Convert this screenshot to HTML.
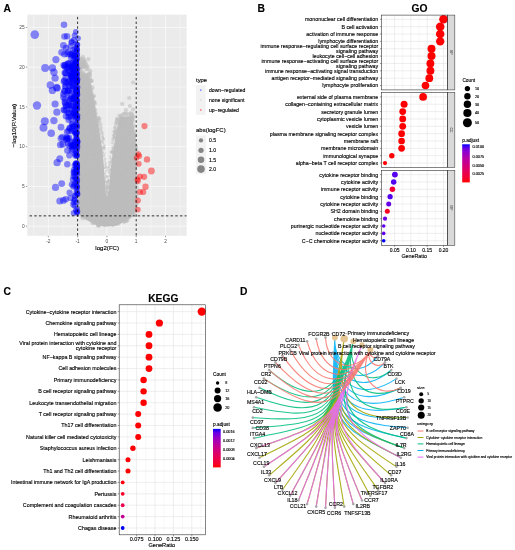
<!DOCTYPE html>
<html><head><meta charset="utf-8"><title>Figure</title>
<style>
html,body{margin:0;padding:0;background:#fff;}
body{width:515px;height:550px;overflow:hidden;}
svg{display:block;font-family:"Liberation Sans",Arial,sans-serif;}
text{stroke:#000;stroke-width:.13px;}
</style></head><body>
<svg width="515" height="550" viewBox="0 0 515 550">
<rect width="515" height="550" fill="#fff"/>
<g id="panelA">
<text x="3.50" y="11.86" font-size="10.3" font-weight="bold">A</text>
<rect x="27.3" y="14.6" width="159.3" height="221.2" fill="#EBEBEB"/>
<path d="M33.65 14.6V235.8M62.95 14.6V235.8M92.25 14.6V235.8M121.55 14.6V235.8M150.85 14.6V235.8M180.15 14.6V235.8M27.3 206.32H186.6M27.3 166.57H186.6M27.3 126.82H186.6M27.3 87.07H186.6M27.3 47.32H186.6" stroke="#F6F6F6" stroke-width="0.6" fill="none"/>
<path d="M48.30 14.6V235.8M77.60 14.6V235.8M106.90 14.6V235.8M136.20 14.6V235.8M165.50 14.6V235.8M27.3 226.20H186.6M27.3 186.45H186.6M27.3 146.70H186.6M27.3 106.95H186.6M27.3 67.20H186.6M27.3 27.45H186.6" stroke="#FCFCFC" stroke-width="0.7" fill="none"/>
<polygon fill="#BCBCBC" points="97.1,225.8 93.4,223.8 88.4,221.0 83.2,218.2 80.2,215.9 77.3,210.3 77.3,194.4 77.3,178.5 77.3,162.6 77.3,146.7 77.3,130.8 77.3,114.9 77.3,99.0 77.3,83.1 77.3,73.6 88.5,73.6 90.7,83.1 94.0,99.0 96.6,114.9 99.3,130.8 101.8,146.7 103.6,162.6 104.7,178.5 106.0,194.4 106.9,197.6 107.8,195.2 109.1,186.4 109.9,178.5 111.4,162.6 113.8,146.7 115.2,138.8 116.7,130.8 118.1,122.8 119.7,116.5 132.9,116.5 133.0,122.8 134.4,130.8 135.3,138.8 136.1,146.7 136.5,162.6 136.5,178.5 136.5,194.4 136.5,210.3 133.6,215.9 130.6,218.2 125.7,221.0 120.4,223.8 116.7,225.8 106.9,226.6"/>
<g fill="#BEBEBE" fill-opacity="0.35"><circle cx="106.9" cy="176.4" r="0.9"/><circle cx="114.6" cy="127.3" r="1.5"/><circle cx="108.7" cy="181.2" r="1.0"/><circle cx="113.9" cy="137.6" r="1.4"/><circle cx="106.9" cy="197.2" r="0.9"/><circle cx="106.9" cy="197.3" r="0.9"/><circle cx="103.7" cy="138.8" r="1.2"/><circle cx="106.9" cy="188.1" r="0.9"/><circle cx="107.7" cy="185.3" r="0.9"/><circle cx="108.8" cy="171.1" r="1.1"/><circle cx="105.5" cy="176.2" r="1.0"/><circle cx="106.1" cy="184.1" r="0.9"/><circle cx="113.5" cy="140.0" r="1.4"/><circle cx="113.8" cy="137.3" r="1.4"/><circle cx="106.9" cy="182.0" r="0.9"/><circle cx="106.9" cy="193.3" r="0.9"/><circle cx="108.7" cy="165.7" r="1.0"/><circle cx="102.0" cy="131.7" r="1.3"/><circle cx="103.4" cy="149.1" r="1.2"/><circle cx="114.1" cy="131.1" r="1.5"/><circle cx="106.9" cy="189.9" r="0.9"/><circle cx="107.9" cy="186.2" r="1.0"/><circle cx="106.9" cy="188.7" r="0.9"/><circle cx="106.3" cy="176.2" r="0.9"/><circle cx="114.4" cy="137.7" r="1.5"/><circle cx="108.4" cy="179.3" r="1.0"/><circle cx="112.7" cy="140.4" r="1.4"/><circle cx="108.2" cy="180.7" r="1.0"/><circle cx="108.9" cy="176.0" r="1.1"/><circle cx="102.5" cy="133.8" r="1.3"/><circle cx="116.6" cy="118.3" r="1.6"/><circle cx="106.6" cy="171.5" r="0.9"/><circle cx="103.0" cy="147.2" r="1.2"/><circle cx="104.0" cy="155.1" r="1.1"/><circle cx="115.9" cy="125.0" r="1.6"/><circle cx="106.9" cy="187.7" r="0.9"/><circle cx="108.6" cy="167.6" r="1.0"/><circle cx="115.1" cy="133.5" r="1.5"/><circle cx="105.7" cy="165.6" r="1.0"/><circle cx="102.7" cy="142.3" r="1.2"/><circle cx="105.4" cy="158.2" r="1.0"/><circle cx="109.2" cy="166.9" r="1.1"/><circle cx="116.4" cy="120.4" r="1.6"/><circle cx="105.5" cy="159.9" r="1.0"/><circle cx="106.9" cy="194.5" r="0.9"/><circle cx="107.2" cy="186.9" r="0.9"/><circle cx="109.4" cy="172.8" r="1.1"/><circle cx="114.3" cy="133.9" r="1.5"/><circle cx="104.9" cy="165.0" r="1.1"/><circle cx="106.9" cy="193.3" r="0.9"/><circle cx="108.0" cy="186.4" r="1.0"/><circle cx="106.9" cy="184.0" r="0.9"/><circle cx="108.2" cy="183.6" r="1.0"/><circle cx="109.9" cy="162.4" r="1.1"/><circle cx="106.9" cy="177.5" r="0.9"/><circle cx="106.9" cy="176.1" r="0.9"/><circle cx="116.2" cy="122.8" r="1.6"/><circle cx="112.2" cy="147.6" r="1.3"/><circle cx="103.1" cy="138.4" r="1.2"/><circle cx="106.9" cy="181.6" r="0.9"/><circle cx="100.8" cy="130.3" r="1.4"/><circle cx="106.4" cy="176.5" r="0.9"/><circle cx="106.9" cy="185.3" r="0.9"/><circle cx="106.9" cy="183.3" r="0.9"/><circle cx="106.6" cy="182.1" r="0.9"/><circle cx="115.4" cy="126.2" r="1.5"/><circle cx="102.1" cy="134.5" r="1.3"/><circle cx="117.3" cy="118.9" r="1.7"/><circle cx="115.5" cy="129.9" r="1.5"/><circle cx="105.5" cy="166.6" r="1.0"/><circle cx="106.8" cy="188.5" r="0.9"/><circle cx="109.1" cy="163.6" r="1.1"/><circle cx="114.5" cy="135.1" r="1.5"/><circle cx="113.7" cy="131.1" r="1.4"/><circle cx="113.3" cy="135.2" r="1.4"/><circle cx="103.1" cy="143.3" r="1.2"/><circle cx="107.1" cy="186.5" r="0.9"/><circle cx="100.7" cy="129.7" r="1.4"/><circle cx="114.6" cy="127.5" r="1.5"/><circle cx="99.8" cy="120.0" r="1.4"/><circle cx="113.3" cy="143.6" r="1.4"/><circle cx="111.1" cy="152.3" r="1.2"/><circle cx="102.2" cy="132.8" r="1.3"/><circle cx="108.2" cy="179.9" r="1.0"/><circle cx="106.9" cy="189.3" r="0.9"/><circle cx="100.9" cy="131.7" r="1.4"/><circle cx="106.9" cy="192.0" r="0.9"/><circle cx="104.9" cy="159.4" r="1.1"/><circle cx="117.4" cy="118.7" r="1.7"/><circle cx="116.1" cy="123.6" r="1.6"/><circle cx="114.0" cy="136.9" r="1.4"/><circle cx="112.2" cy="150.2" r="1.3"/><circle cx="115.1" cy="129.0" r="1.5"/><circle cx="106.3" cy="163.2" r="0.9"/><circle cx="108.1" cy="180.4" r="1.0"/><circle cx="99.4" cy="118.3" r="1.5"/><circle cx="98.7" cy="122.0" r="1.5"/><circle cx="109.2" cy="161.8" r="1.1"/><circle cx="106.9" cy="189.9" r="0.9"/><circle cx="114.8" cy="132.4" r="1.5"/><circle cx="102.8" cy="136.0" r="1.2"/><circle cx="101.2" cy="124.6" r="1.4"/><circle cx="106.2" cy="166.1" r="0.9"/><circle cx="108.2" cy="180.9" r="1.0"/><circle cx="101.7" cy="137.0" r="1.3"/><circle cx="110.1" cy="156.2" r="1.2"/><circle cx="100.1" cy="118.5" r="1.4"/><circle cx="115.2" cy="131.8" r="1.5"/><circle cx="110.6" cy="152.0" r="1.2"/><circle cx="108.1" cy="167.7" r="1.0"/><circle cx="106.9" cy="195.6" r="0.9"/><circle cx="115.2" cy="123.1" r="1.5"/><circle cx="116.5" cy="120.5" r="1.6"/><circle cx="104.2" cy="145.4" r="1.1"/><circle cx="103.4" cy="147.8" r="1.2"/><circle cx="105.5" cy="162.8" r="1.0"/><circle cx="106.5" cy="189.9" r="0.9"/><circle cx="103.1" cy="138.3" r="1.2"/><circle cx="106.5" cy="176.4" r="0.9"/><circle cx="104.7" cy="147.7" r="1.1"/><circle cx="104.5" cy="149.2" r="1.1"/><circle cx="112.8" cy="138.7" r="1.4"/><circle cx="101.7" cy="128.3" r="1.3"/><circle cx="99.1" cy="119.5" r="1.5"/><circle cx="106.9" cy="191.8" r="0.9"/><circle cx="107.4" cy="185.8" r="0.9"/><circle cx="118.5" cy="115.1" r="1.7"/><circle cx="108.7" cy="177.3" r="1.0"/><circle cx="105.8" cy="163.7" r="1.0"/><circle cx="106.4" cy="184.2" r="0.9"/><circle cx="106.4" cy="181.6" r="0.9"/><circle cx="107.7" cy="182.4" r="0.9"/><circle cx="98.8" cy="117.1" r="1.5"/><circle cx="110.7" cy="158.6" r="1.2"/><circle cx="108.0" cy="185.6" r="1.0"/><circle cx="103.8" cy="139.6" r="1.2"/><circle cx="105.8" cy="168.3" r="1.0"/><circle cx="102.8" cy="140.5" r="1.2"/><circle cx="100.6" cy="126.1" r="1.4"/><circle cx="101.1" cy="127.3" r="1.4"/><circle cx="104.5" cy="145.5" r="1.1"/><circle cx="105.0" cy="161.8" r="1.0"/><circle cx="112.0" cy="142.8" r="1.3"/><circle cx="107.6" cy="185.6" r="0.9"/><circle cx="114.3" cy="132.2" r="1.5"/><circle cx="107.9" cy="169.5" r="1.0"/><circle cx="110.0" cy="164.3" r="1.1"/><circle cx="100.6" cy="123.4" r="1.4"/><circle cx="106.0" cy="170.9" r="0.9"/><circle cx="106.7" cy="167.5" r="0.9"/><circle cx="105.4" cy="153.6" r="1.0"/><circle cx="110.5" cy="158.1" r="1.2"/><circle cx="104.4" cy="147.2" r="1.1"/><circle cx="105.6" cy="166.9" r="1.0"/><circle cx="99.8" cy="122.1" r="1.5"/><circle cx="106.7" cy="170.1" r="0.9"/><circle cx="102.0" cy="140.5" r="1.3"/><circle cx="106.9" cy="192.7" r="0.9"/><circle cx="105.7" cy="178.7" r="1.0"/><circle cx="102.8" cy="136.9" r="1.2"/><circle cx="116.7" cy="119.3" r="1.6"/><circle cx="106.9" cy="190.2" r="0.9"/><circle cx="106.9" cy="181.6" r="0.9"/><circle cx="110.0" cy="165.7" r="1.2"/><circle cx="113.7" cy="135.3" r="1.4"/><circle cx="106.9" cy="194.4" r="0.9"/><circle cx="106.9" cy="195.8" r="0.9"/><circle cx="107.5" cy="188.3" r="0.9"/><circle cx="104.2" cy="147.2" r="1.1"/><circle cx="108.0" cy="167.8" r="1.0"/></g>
<g fill="#BEBEBE" fill-opacity="0.55"><circle cx="105.4" cy="201.0" r="1.1"/><circle cx="101.6" cy="219.9" r="1.5"/><circle cx="118.4" cy="119.2" r="1.9"/><circle cx="102.8" cy="174.7" r="1.4"/><circle cx="101.4" cy="215.7" r="1.5"/><circle cx="112.6" cy="175.0" r="1.5"/><circle cx="126.2" cy="212.9" r="2.3"/><circle cx="129.1" cy="139.9" r="2.5"/><circle cx="129.6" cy="119.6" r="2.5"/><circle cx="118.6" cy="223.7" r="1.9"/><circle cx="83.4" cy="184.9" r="2.6"/><circle cx="116.3" cy="133.7" r="1.8"/><circle cx="84.7" cy="187.5" r="2.5"/><circle cx="94.4" cy="164.6" r="2.0"/><circle cx="130.4" cy="138.1" r="2.6"/><circle cx="113.2" cy="219.2" r="1.6"/><circle cx="102.6" cy="200.9" r="1.4"/><circle cx="94.9" cy="184.1" r="1.9"/><circle cx="86.1" cy="209.1" r="2.4"/><circle cx="117.3" cy="166.6" r="1.8"/><circle cx="80.1" cy="165.0" r="2.7"/><circle cx="121.5" cy="129.9" r="2.1"/><circle cx="85.9" cy="179.6" r="2.4"/><circle cx="77.9" cy="122.0" r="2.8"/><circle cx="120.3" cy="137.9" r="2.0"/><circle cx="132.1" cy="116.5" r="2.6"/><circle cx="126.4" cy="135.2" r="2.4"/><circle cx="78.5" cy="64.1" r="2.8"/><circle cx="96.5" cy="128.3" r="1.8"/><circle cx="89.2" cy="128.8" r="2.3"/><circle cx="87.6" cy="195.6" r="2.3"/><circle cx="96.7" cy="133.5" r="1.8"/><circle cx="121.5" cy="168.9" r="2.1"/><circle cx="127.2" cy="175.1" r="2.4"/><circle cx="101.7" cy="152.4" r="1.5"/><circle cx="132.3" cy="151.7" r="2.6"/><circle cx="77.8" cy="169.6" r="2.8"/><circle cx="92.8" cy="223.2" r="2.1"/><circle cx="120.5" cy="116.5" r="2.0"/><circle cx="78.7" cy="155.7" r="2.8"/><circle cx="113.4" cy="147.1" r="1.6"/><circle cx="126.5" cy="154.6" r="2.4"/><circle cx="78.1" cy="169.6" r="2.8"/><circle cx="105.9" cy="207.9" r="1.1"/><circle cx="135.7" cy="193.5" r="2.8"/><circle cx="95.0" cy="103.8" r="1.9"/><circle cx="115.6" cy="177.4" r="1.7"/><circle cx="135.2" cy="146.4" r="2.8"/><circle cx="94.6" cy="102.5" r="2.0"/><circle cx="129.0" cy="194.4" r="2.5"/><circle cx="85.3" cy="65.6" r="2.5"/><circle cx="99.4" cy="226.0" r="1.6"/><circle cx="77.7" cy="182.1" r="2.8"/><circle cx="98.3" cy="128.4" r="1.7"/><circle cx="124.4" cy="153.6" r="2.3"/><circle cx="84.2" cy="142.0" r="2.5"/><circle cx="77.6" cy="86.7" r="2.8"/><circle cx="121.7" cy="169.4" r="2.1"/><circle cx="105.0" cy="181.9" r="1.2"/><circle cx="79.2" cy="146.2" r="2.7"/><circle cx="107.3" cy="191.8" r="1.0"/><circle cx="125.4" cy="149.9" r="2.3"/><circle cx="119.4" cy="203.7" r="2.0"/><circle cx="87.1" cy="191.2" r="2.4"/><circle cx="116.4" cy="211.2" r="1.8"/><circle cx="98.1" cy="225.6" r="1.7"/><circle cx="89.7" cy="85.9" r="2.2"/><circle cx="79.9" cy="59.5" r="2.7"/><circle cx="78.5" cy="86.9" r="2.8"/><circle cx="93.7" cy="163.9" r="2.0"/><circle cx="125.8" cy="220.6" r="2.3"/><circle cx="101.6" cy="147.4" r="1.5"/><circle cx="131.4" cy="192.2" r="2.6"/><circle cx="131.6" cy="170.1" r="2.6"/><circle cx="104.6" cy="211.0" r="1.2"/><circle cx="78.6" cy="157.1" r="2.8"/><circle cx="119.3" cy="212.0" r="2.0"/><circle cx="77.6" cy="66.9" r="2.8"/><circle cx="109.6" cy="172.8" r="1.2"/><circle cx="81.0" cy="139.0" r="2.7"/><circle cx="79.0" cy="95.6" r="2.8"/><circle cx="97.1" cy="120.0" r="1.8"/><circle cx="106.3" cy="188.9" r="1.0"/><circle cx="83.4" cy="65.8" r="2.6"/><circle cx="117.5" cy="121.8" r="1.9"/><circle cx="91.6" cy="93.1" r="2.1"/><circle cx="114.9" cy="200.1" r="1.7"/><circle cx="91.6" cy="188.9" r="2.1"/><circle cx="80.8" cy="160.5" r="2.7"/><circle cx="129.7" cy="141.9" r="2.5"/><circle cx="104.2" cy="225.7" r="1.2"/><circle cx="116.8" cy="133.4" r="1.8"/><circle cx="111.6" cy="222.8" r="1.4"/><circle cx="93.9" cy="101.4" r="2.0"/><circle cx="77.8" cy="106.6" r="2.8"/><circle cx="82.7" cy="66.5" r="2.6"/><circle cx="120.2" cy="205.5" r="2.0"/><circle cx="78.4" cy="193.3" r="2.8"/><circle cx="77.6" cy="62.5" r="2.8"/><circle cx="93.8" cy="107.7" r="2.0"/><circle cx="129.1" cy="193.0" r="2.5"/><circle cx="90.5" cy="200.6" r="2.2"/><circle cx="112.4" cy="152.4" r="1.5"/><circle cx="89.3" cy="206.3" r="2.3"/><circle cx="110.3" cy="175.5" r="1.3"/><circle cx="102.4" cy="202.6" r="1.4"/><circle cx="92.5" cy="171.6" r="2.1"/><circle cx="99.1" cy="215.6" r="1.7"/><circle cx="95.6" cy="110.1" r="1.9"/><circle cx="114.5" cy="185.9" r="1.6"/><circle cx="78.1" cy="75.7" r="2.8"/><circle cx="113.5" cy="153.9" r="1.6"/><circle cx="94.1" cy="178.9" r="2.0"/><circle cx="86.0" cy="68.8" r="2.4"/><circle cx="120.3" cy="156.2" r="2.0"/><circle cx="118.7" cy="132.6" r="1.9"/><circle cx="77.7" cy="185.0" r="2.8"/><circle cx="84.7" cy="126.1" r="2.5"/><circle cx="90.7" cy="116.2" r="2.2"/><circle cx="86.5" cy="98.7" r="2.4"/><circle cx="77.9" cy="154.3" r="2.8"/><circle cx="86.5" cy="103.7" r="2.4"/><circle cx="113.6" cy="210.8" r="1.6"/><circle cx="117.4" cy="122.8" r="1.8"/><circle cx="107.6" cy="195.2" r="1.0"/><circle cx="100.6" cy="141.7" r="1.6"/><circle cx="127.7" cy="125.1" r="2.4"/><circle cx="85.7" cy="80.5" r="2.4"/><circle cx="134.0" cy="161.0" r="2.7"/><circle cx="78.0" cy="119.5" r="2.8"/><circle cx="134.6" cy="177.4" r="2.7"/><circle cx="104.9" cy="225.8" r="1.2"/><circle cx="111.4" cy="203.1" r="1.4"/><circle cx="82.7" cy="210.2" r="2.6"/><circle cx="93.8" cy="118.5" r="2.0"/><circle cx="124.3" cy="221.2" r="2.3"/><circle cx="99.3" cy="134.2" r="1.6"/><circle cx="133.9" cy="134.4" r="2.7"/><circle cx="130.4" cy="145.4" r="2.6"/><circle cx="100.4" cy="187.4" r="1.6"/><circle cx="131.7" cy="177.0" r="2.6"/><circle cx="95.1" cy="182.7" r="1.9"/><circle cx="80.7" cy="74.7" r="2.7"/><circle cx="132.4" cy="176.8" r="2.6"/><circle cx="89.5" cy="74.1" r="2.2"/><circle cx="98.2" cy="221.4" r="1.7"/><circle cx="131.6" cy="119.6" r="2.6"/><circle cx="135.4" cy="154.6" r="2.8"/><circle cx="127.8" cy="203.1" r="2.4"/><circle cx="127.7" cy="184.7" r="2.4"/><circle cx="80.0" cy="157.3" r="2.7"/><circle cx="91.4" cy="89.3" r="2.1"/><circle cx="89.2" cy="93.2" r="2.3"/><circle cx="125.5" cy="194.2" r="2.3"/><circle cx="133.4" cy="137.4" r="2.7"/><circle cx="79.4" cy="191.8" r="2.7"/><circle cx="81.5" cy="100.2" r="2.6"/><circle cx="127.4" cy="151.5" r="2.4"/><circle cx="110.7" cy="199.3" r="1.3"/><circle cx="86.1" cy="184.9" r="2.4"/><circle cx="133.1" cy="143.9" r="2.7"/><circle cx="114.9" cy="214.1" r="1.7"/><circle cx="93.5" cy="125.4" r="2.0"/><circle cx="84.1" cy="105.6" r="2.5"/><circle cx="93.3" cy="121.3" r="2.0"/><circle cx="95.9" cy="113.5" r="1.9"/><circle cx="81.6" cy="63.5" r="2.6"/><circle cx="131.9" cy="165.1" r="2.6"/><circle cx="77.6" cy="98.9" r="2.8"/><circle cx="99.4" cy="224.0" r="1.6"/><circle cx="89.7" cy="102.4" r="2.2"/><circle cx="88.5" cy="204.6" r="2.3"/><circle cx="131.1" cy="134.1" r="2.6"/><circle cx="85.5" cy="84.2" r="2.5"/><circle cx="91.8" cy="105.7" r="2.1"/><circle cx="112.3" cy="151.8" r="1.5"/><circle cx="92.5" cy="87.4" r="2.1"/><circle cx="97.3" cy="209.3" r="1.8"/><circle cx="124.6" cy="136.8" r="2.3"/><circle cx="131.2" cy="203.9" r="2.6"/><circle cx="104.5" cy="216.4" r="1.2"/><circle cx="113.0" cy="225.5" r="1.5"/><circle cx="112.8" cy="217.7" r="1.5"/><circle cx="132.8" cy="168.6" r="2.7"/><circle cx="83.2" cy="97.6" r="2.6"/><circle cx="88.8" cy="142.1" r="2.3"/><circle cx="129.7" cy="137.7" r="2.5"/><circle cx="81.0" cy="72.4" r="2.7"/><circle cx="132.5" cy="174.5" r="2.6"/><circle cx="130.3" cy="152.2" r="2.5"/><circle cx="82.9" cy="154.3" r="2.6"/><circle cx="77.6" cy="90.9" r="2.8"/><circle cx="131.4" cy="120.3" r="2.6"/><circle cx="106.8" cy="200.9" r="1.0"/><circle cx="91.0" cy="81.0" r="2.2"/><circle cx="94.7" cy="217.8" r="2.0"/><circle cx="97.5" cy="117.6" r="1.8"/><circle cx="120.8" cy="171.3" r="2.1"/><circle cx="83.1" cy="93.1" r="2.6"/><circle cx="118.7" cy="146.8" r="1.9"/><circle cx="78.7" cy="77.9" r="2.8"/><circle cx="103.5" cy="155.7" r="1.3"/><circle cx="134.4" cy="135.1" r="2.7"/><circle cx="131.7" cy="203.6" r="2.6"/><circle cx="81.5" cy="100.8" r="2.6"/><circle cx="130.7" cy="126.3" r="2.6"/><circle cx="86.3" cy="109.2" r="2.4"/><circle cx="83.7" cy="59.7" r="2.5"/><circle cx="108.2" cy="187.3" r="1.1"/><circle cx="84.2" cy="96.1" r="2.5"/><circle cx="82.9" cy="217.7" r="2.6"/><circle cx="102.5" cy="206.2" r="1.4"/><circle cx="77.6" cy="199.5" r="2.8"/><circle cx="77.7" cy="75.5" r="2.8"/><circle cx="119.9" cy="120.2" r="2.0"/><circle cx="83.8" cy="183.3" r="2.5"/><circle cx="107.3" cy="224.8" r="1.0"/><circle cx="127.8" cy="128.4" r="2.4"/><circle cx="133.7" cy="155.3" r="2.7"/><circle cx="91.6" cy="107.0" r="2.1"/><circle cx="96.4" cy="180.9" r="1.8"/><circle cx="107.2" cy="213.3" r="1.0"/><circle cx="104.4" cy="178.4" r="1.2"/><circle cx="87.6" cy="76.6" r="2.3"/><circle cx="108.0" cy="187.7" r="1.1"/><circle cx="78.9" cy="73.9" r="2.8"/><circle cx="108.1" cy="204.0" r="1.1"/><circle cx="97.1" cy="124.0" r="1.8"/><circle cx="127.2" cy="219.9" r="2.4"/><circle cx="88.0" cy="80.6" r="2.3"/><circle cx="88.5" cy="126.9" r="2.3"/><circle cx="123.3" cy="134.0" r="2.2"/><circle cx="84.7" cy="80.5" r="2.5"/><circle cx="83.2" cy="64.7" r="2.6"/><circle cx="84.6" cy="210.1" r="2.5"/><circle cx="120.3" cy="221.1" r="2.0"/><circle cx="78.8" cy="203.3" r="2.8"/><circle cx="123.6" cy="182.3" r="2.2"/><circle cx="95.1" cy="170.3" r="1.9"/><circle cx="86.1" cy="120.6" r="2.4"/><circle cx="106.2" cy="202.9" r="1.0"/><circle cx="87.5" cy="135.7" r="2.4"/><circle cx="124.6" cy="193.7" r="2.3"/><circle cx="97.3" cy="137.1" r="1.8"/><circle cx="92.9" cy="185.6" r="2.1"/><circle cx="85.1" cy="123.9" r="2.5"/><circle cx="95.1" cy="128.4" r="1.9"/><circle cx="108.1" cy="192.8" r="1.1"/><circle cx="91.0" cy="161.4" r="2.2"/><circle cx="89.3" cy="167.4" r="2.3"/><circle cx="127.7" cy="160.1" r="2.4"/><circle cx="83.9" cy="150.7" r="2.5"/><circle cx="83.7" cy="172.4" r="2.5"/><circle cx="100.2" cy="202.0" r="1.6"/><circle cx="116.5" cy="131.6" r="1.8"/><circle cx="82.0" cy="131.9" r="2.6"/><circle cx="114.2" cy="182.2" r="1.6"/><circle cx="104.1" cy="209.7" r="1.2"/><circle cx="95.0" cy="121.9" r="1.9"/><circle cx="83.8" cy="62.9" r="2.5"/><circle cx="128.4" cy="114.4" r="2.5"/><circle cx="83.7" cy="194.8" r="2.5"/><circle cx="101.7" cy="175.4" r="1.5"/><circle cx="134.7" cy="166.2" r="2.7"/><circle cx="108.4" cy="214.2" r="1.1"/><circle cx="78.8" cy="97.6" r="2.8"/><circle cx="84.3" cy="75.3" r="2.5"/><circle cx="129.5" cy="160.4" r="2.5"/><circle cx="132.2" cy="129.7" r="2.6"/><circle cx="113.0" cy="170.3" r="1.5"/><circle cx="78.4" cy="80.1" r="2.8"/><circle cx="81.6" cy="64.0" r="2.6"/><circle cx="82.9" cy="215.3" r="2.6"/><circle cx="79.5" cy="186.6" r="2.7"/><circle cx="104.8" cy="181.2" r="1.2"/><circle cx="89.9" cy="167.3" r="2.2"/><circle cx="131.2" cy="196.8" r="2.6"/><circle cx="80.8" cy="80.6" r="2.7"/><circle cx="79.4" cy="116.4" r="2.7"/><circle cx="110.5" cy="190.0" r="1.3"/><circle cx="104.0" cy="215.2" r="1.3"/><circle cx="77.9" cy="74.5" r="2.8"/><circle cx="84.4" cy="112.7" r="2.5"/><circle cx="80.3" cy="121.2" r="2.7"/><circle cx="89.5" cy="193.1" r="2.2"/><circle cx="81.8" cy="86.1" r="2.6"/><circle cx="97.9" cy="226.0" r="1.7"/><circle cx="111.4" cy="220.9" r="1.4"/><circle cx="112.2" cy="216.5" r="1.5"/><circle cx="80.0" cy="68.2" r="2.7"/><circle cx="80.0" cy="109.6" r="2.7"/><circle cx="131.9" cy="196.7" r="2.6"/><circle cx="86.6" cy="166.5" r="2.4"/><circle cx="112.0" cy="199.3" r="1.5"/><circle cx="85.8" cy="78.5" r="2.4"/><circle cx="113.9" cy="158.6" r="1.6"/><circle cx="78.6" cy="179.3" r="2.8"/><circle cx="93.1" cy="165.6" r="2.1"/><circle cx="132.3" cy="162.6" r="2.6"/><circle cx="79.3" cy="72.7" r="2.7"/><circle cx="93.2" cy="96.9" r="2.0"/><circle cx="118.4" cy="132.5" r="1.9"/><circle cx="77.7" cy="134.2" r="2.8"/><circle cx="132.3" cy="133.7" r="2.6"/><circle cx="107.4" cy="217.1" r="1.0"/><circle cx="92.5" cy="152.8" r="2.1"/><circle cx="127.9" cy="178.2" r="2.4"/><circle cx="79.4" cy="115.0" r="2.7"/><circle cx="126.5" cy="186.9" r="2.4"/><circle cx="129.8" cy="192.7" r="2.5"/><circle cx="88.4" cy="78.4" r="2.3"/><circle cx="118.6" cy="184.2" r="1.9"/><circle cx="98.7" cy="196.1" r="1.7"/><circle cx="82.3" cy="137.6" r="2.6"/><circle cx="88.8" cy="140.5" r="2.3"/><circle cx="135.5" cy="164.0" r="2.8"/><circle cx="82.6" cy="197.6" r="2.6"/><circle cx="105.5" cy="223.7" r="1.1"/><circle cx="126.5" cy="156.1" r="2.4"/><circle cx="113.4" cy="149.4" r="1.6"/><circle cx="116.1" cy="215.0" r="1.8"/><circle cx="78.3" cy="194.0" r="2.8"/><circle cx="87.1" cy="92.5" r="2.4"/><circle cx="78.7" cy="80.1" r="2.8"/><circle cx="90.9" cy="80.4" r="2.2"/><circle cx="77.7" cy="85.1" r="2.8"/><circle cx="90.0" cy="76.9" r="2.2"/><circle cx="108.7" cy="182.4" r="1.2"/><circle cx="83.1" cy="61.5" r="2.6"/><circle cx="84.3" cy="182.4" r="2.5"/><circle cx="115.8" cy="154.6" r="1.7"/><circle cx="125.9" cy="142.7" r="2.3"/><circle cx="79.2" cy="169.9" r="2.7"/><circle cx="104.8" cy="167.9" r="1.2"/><circle cx="108.9" cy="192.1" r="1.2"/><circle cx="132.1" cy="120.4" r="2.6"/><circle cx="131.6" cy="114.7" r="2.6"/><circle cx="85.3" cy="198.7" r="2.5"/><circle cx="116.7" cy="128.7" r="1.8"/><circle cx="81.6" cy="91.1" r="2.6"/><circle cx="117.6" cy="154.0" r="1.9"/><circle cx="106.2" cy="216.6" r="1.0"/><circle cx="109.0" cy="197.2" r="1.2"/><circle cx="109.2" cy="189.0" r="1.2"/><circle cx="129.1" cy="178.4" r="2.5"/><circle cx="82.7" cy="107.4" r="2.6"/><circle cx="87.8" cy="69.1" r="2.3"/><circle cx="106.6" cy="221.5" r="1.0"/><circle cx="109.4" cy="184.9" r="1.2"/><circle cx="80.3" cy="96.3" r="2.7"/><circle cx="127.1" cy="174.3" r="2.4"/><circle cx="108.9" cy="180.8" r="1.2"/><circle cx="83.3" cy="184.1" r="2.6"/><circle cx="125.8" cy="192.5" r="2.3"/><circle cx="131.5" cy="196.0" r="2.6"/><circle cx="132.4" cy="208.0" r="2.6"/><circle cx="94.1" cy="96.0" r="2.0"/><circle cx="106.7" cy="207.6" r="1.0"/><circle cx="106.6" cy="198.0" r="1.0"/><circle cx="120.8" cy="115.6" r="2.1"/><circle cx="106.0" cy="187.5" r="1.1"/><circle cx="117.5" cy="212.6" r="1.9"/><circle cx="93.5" cy="103.0" r="2.0"/><circle cx="125.2" cy="126.5" r="2.3"/><circle cx="77.6" cy="141.3" r="2.8"/><circle cx="131.8" cy="164.8" r="2.6"/><circle cx="77.6" cy="63.8" r="2.8"/><circle cx="129.2" cy="197.5" r="2.5"/><circle cx="115.1" cy="137.7" r="1.7"/><circle cx="105.2" cy="173.5" r="1.1"/><circle cx="126.1" cy="113.9" r="2.3"/><circle cx="133.0" cy="149.8" r="2.7"/><circle cx="78.8" cy="74.5" r="2.8"/><circle cx="79.0" cy="138.7" r="2.8"/><circle cx="98.1" cy="119.3" r="1.7"/><circle cx="105.0" cy="200.5" r="1.2"/><circle cx="78.3" cy="59.8" r="2.8"/><circle cx="90.0" cy="139.3" r="2.2"/><circle cx="93.2" cy="130.9" r="2.0"/><circle cx="88.7" cy="86.9" r="2.3"/><circle cx="93.3" cy="164.9" r="2.0"/><circle cx="125.8" cy="121.8" r="2.3"/><circle cx="125.4" cy="183.4" r="2.3"/><circle cx="84.3" cy="86.0" r="2.5"/><circle cx="133.8" cy="163.7" r="2.7"/><circle cx="120.4" cy="214.7" r="2.0"/><circle cx="97.8" cy="128.7" r="1.7"/><circle cx="110.6" cy="195.2" r="1.3"/><circle cx="79.0" cy="156.0" r="2.8"/><circle cx="93.8" cy="148.7" r="2.0"/><circle cx="120.3" cy="163.4" r="2.0"/><circle cx="79.0" cy="180.5" r="2.8"/><circle cx="109.9" cy="220.7" r="1.3"/><circle cx="117.4" cy="135.8" r="1.8"/><circle cx="107.2" cy="202.8" r="1.0"/><circle cx="135.9" cy="197.1" r="2.8"/><circle cx="87.0" cy="86.6" r="2.4"/><circle cx="79.9" cy="74.0" r="2.7"/><circle cx="85.7" cy="119.2" r="2.4"/><circle cx="78.6" cy="87.9" r="2.8"/><circle cx="110.2" cy="170.1" r="1.3"/><circle cx="96.1" cy="211.4" r="1.9"/><circle cx="132.5" cy="117.0" r="2.6"/><circle cx="97.9" cy="184.9" r="1.7"/><circle cx="118.9" cy="215.4" r="1.9"/><circle cx="113.8" cy="211.3" r="1.6"/><circle cx="80.2" cy="69.0" r="2.7"/><circle cx="78.5" cy="79.4" r="2.8"/><circle cx="90.5" cy="136.8" r="2.2"/><circle cx="105.9" cy="186.2" r="1.1"/><circle cx="79.2" cy="182.1" r="2.7"/><circle cx="80.4" cy="126.8" r="2.7"/><circle cx="124.2" cy="221.5" r="2.2"/><circle cx="100.4" cy="158.2" r="1.6"/><circle cx="105.4" cy="202.8" r="1.1"/><circle cx="135.7" cy="203.7" r="2.8"/><circle cx="90.2" cy="199.1" r="2.2"/><circle cx="113.5" cy="197.8" r="1.6"/><circle cx="77.9" cy="74.6" r="2.8"/><circle cx="136.2" cy="187.9" r="2.8"/><circle cx="93.4" cy="207.7" r="2.0"/><circle cx="78.4" cy="167.1" r="2.8"/><circle cx="124.7" cy="176.3" r="2.3"/><circle cx="135.1" cy="205.4" r="2.8"/><circle cx="126.1" cy="125.3" r="2.3"/><circle cx="82.3" cy="196.9" r="2.6"/><circle cx="123.9" cy="168.2" r="2.2"/><circle cx="116.1" cy="185.4" r="1.8"/><circle cx="80.2" cy="63.2" r="2.7"/><circle cx="130.2" cy="125.6" r="2.5"/><circle cx="133.0" cy="125.6" r="2.7"/><circle cx="127.6" cy="153.8" r="2.4"/><circle cx="123.9" cy="153.0" r="2.2"/><circle cx="78.5" cy="130.2" r="2.8"/><circle cx="133.0" cy="207.9" r="2.7"/><circle cx="86.1" cy="64.8" r="2.4"/><circle cx="90.8" cy="153.0" r="2.2"/><circle cx="113.9" cy="175.4" r="1.6"/><circle cx="82.8" cy="73.0" r="2.6"/><circle cx="78.8" cy="88.2" r="2.8"/><circle cx="132.6" cy="149.7" r="2.7"/><circle cx="131.7" cy="154.6" r="2.6"/><circle cx="120.9" cy="186.7" r="2.1"/><circle cx="89.0" cy="215.2" r="2.3"/><circle cx="125.5" cy="131.6" r="2.3"/><circle cx="124.4" cy="146.8" r="2.3"/><circle cx="79.2" cy="210.5" r="2.7"/><circle cx="98.8" cy="225.6" r="1.7"/><circle cx="132.9" cy="135.1" r="2.7"/><circle cx="90.8" cy="170.9" r="2.2"/><circle cx="128.1" cy="165.6" r="2.4"/><circle cx="86.8" cy="121.0" r="2.4"/><circle cx="87.9" cy="81.3" r="2.3"/><circle cx="122.7" cy="146.2" r="2.2"/><circle cx="90.2" cy="103.3" r="2.2"/><circle cx="78.8" cy="132.7" r="2.8"/><circle cx="125.6" cy="155.1" r="2.3"/><circle cx="96.0" cy="166.9" r="1.9"/><circle cx="77.8" cy="60.8" r="2.8"/><circle cx="106.6" cy="191.3" r="1.0"/><circle cx="136.2" cy="182.8" r="2.8"/><circle cx="114.0" cy="183.4" r="1.6"/><circle cx="86.1" cy="172.2" r="2.4"/><circle cx="84.8" cy="75.0" r="2.5"/><circle cx="77.9" cy="128.4" r="2.8"/><circle cx="99.6" cy="147.6" r="1.6"/><circle cx="89.6" cy="74.4" r="2.2"/><circle cx="85.8" cy="94.6" r="2.4"/><circle cx="77.7" cy="70.8" r="2.8"/><circle cx="81.3" cy="63.7" r="2.7"/><circle cx="84.2" cy="94.8" r="2.5"/><circle cx="110.6" cy="169.5" r="1.3"/><circle cx="106.3" cy="224.9" r="1.0"/><circle cx="79.3" cy="154.6" r="2.7"/><circle cx="118.1" cy="130.3" r="1.9"/><circle cx="77.9" cy="125.0" r="2.8"/><circle cx="115.3" cy="158.6" r="1.7"/><circle cx="128.2" cy="123.1" r="2.4"/><circle cx="89.4" cy="176.0" r="2.3"/><circle cx="93.5" cy="222.7" r="2.0"/><circle cx="98.1" cy="121.5" r="1.7"/><circle cx="135.2" cy="148.3" r="2.8"/><circle cx="123.1" cy="114.5" r="2.2"/><circle cx="106.4" cy="221.6" r="1.0"/><circle cx="135.9" cy="152.1" r="2.8"/><circle cx="100.2" cy="165.8" r="1.6"/><circle cx="79.5" cy="209.5" r="2.7"/><circle cx="85.6" cy="87.2" r="2.4"/><circle cx="124.0" cy="194.9" r="2.2"/><circle cx="112.5" cy="151.6" r="1.5"/><circle cx="110.9" cy="161.9" r="1.4"/><circle cx="115.4" cy="185.1" r="1.7"/><circle cx="83.7" cy="207.6" r="2.5"/><circle cx="98.6" cy="193.8" r="1.7"/><circle cx="126.2" cy="220.5" r="2.3"/><circle cx="101.8" cy="149.4" r="1.5"/><circle cx="102.8" cy="152.7" r="1.4"/><circle cx="89.0" cy="102.0" r="2.3"/><circle cx="81.4" cy="197.7" r="2.6"/><circle cx="104.9" cy="191.9" r="1.2"/><circle cx="101.1" cy="224.4" r="1.5"/><circle cx="98.5" cy="125.2" r="1.7"/><circle cx="130.9" cy="205.7" r="2.6"/><circle cx="77.7" cy="194.2" r="2.8"/><circle cx="78.6" cy="146.6" r="2.8"/><circle cx="80.8" cy="59.3" r="2.7"/><circle cx="87.4" cy="163.8" r="2.4"/><circle cx="87.7" cy="132.4" r="2.3"/><circle cx="103.3" cy="203.3" r="1.3"/><circle cx="89.9" cy="157.9" r="2.2"/><circle cx="89.3" cy="73.5" r="2.3"/><circle cx="78.2" cy="84.5" r="2.8"/><circle cx="112.1" cy="160.0" r="1.5"/><circle cx="79.6" cy="110.7" r="2.7"/><circle cx="128.7" cy="173.0" r="2.5"/><circle cx="112.9" cy="153.1" r="1.5"/><circle cx="83.8" cy="65.7" r="2.5"/><circle cx="134.4" cy="211.8" r="2.7"/><circle cx="93.0" cy="155.9" r="2.1"/><circle cx="80.0" cy="145.8" r="2.7"/><circle cx="82.9" cy="56.9" r="2.1"/><circle cx="88.4" cy="59.1" r="2.1"/><circle cx="91.7" cy="81" r="2.1"/><circle cx="92.8" cy="96.2" r="2.1"/><circle cx="85.5" cy="62" r="2.1"/><circle cx="87.5" cy="66.5" r="2.1"/><circle cx="90.5" cy="71" r="2.1"/><circle cx="84" cy="60.5" r="2.1"/><circle cx="133.1" cy="82.5" r="2.1"/><circle cx="129.2" cy="98" r="2.1"/><circle cx="122.2" cy="103.9" r="2.1"/><circle cx="129.9" cy="106" r="2.1"/><circle cx="133.1" cy="109.3" r="2.1"/><circle cx="126" cy="110" r="2.1"/><circle cx="124.5" cy="113.5" r="2.1"/><circle cx="131" cy="113" r="2.1"/></g>
<g fill="#0000FF" fill-opacity="0.45"><circle cx="34.8" cy="34.6" r="4.3"/><circle cx="64.0" cy="24.8" r="3.3"/><circle cx="67.1" cy="36.2" r="3.2"/><circle cx="64.5" cy="36.5" r="3.3"/><circle cx="75.8" cy="31.8" r="2.9"/><circle cx="74.6" cy="35.4" r="2.9"/><circle cx="78.1" cy="38.3" r="2.8"/><circle cx="71.6" cy="42.5" r="3.1"/><circle cx="63.4" cy="45.4" r="3.4"/><circle cx="61.6" cy="52.3" r="3.4"/><circle cx="55.9" cy="59.6" r="3.6"/><circle cx="45.1" cy="68.1" r="4.0"/><circle cx="52.4" cy="67.9" r="3.7"/><circle cx="53.9" cy="72.3" r="3.7"/><circle cx="55.1" cy="78.2" r="3.6"/><circle cx="50.4" cy="85.1" r="3.8"/><circle cx="56.6" cy="87.4" r="3.6"/><circle cx="57.2" cy="88.2" r="3.6"/><circle cx="52.4" cy="90.4" r="3.7"/><circle cx="64.0" cy="81.5" r="3.3"/><circle cx="65.7" cy="82.7" r="3.3"/><circle cx="65.1" cy="99.2" r="3.3"/><circle cx="37.0" cy="105.5" r="4.2"/><circle cx="55.1" cy="104.0" r="3.6"/><circle cx="56.9" cy="112.2" r="3.6"/><circle cx="66.3" cy="109.9" r="3.3"/><circle cx="44.8" cy="121.3" r="4.0"/><circle cx="53.9" cy="120.6" r="3.7"/><circle cx="43.5" cy="127.8" r="4.0"/><circle cx="61.0" cy="127.2" r="3.4"/><circle cx="51.2" cy="133.2" r="3.8"/><circle cx="61.0" cy="138.3" r="3.4"/><circle cx="62.5" cy="137.1" r="3.4"/><circle cx="60.4" cy="144.8" r="3.5"/><circle cx="62.8" cy="144.2" r="3.4"/><circle cx="66.9" cy="131.8" r="3.2"/><circle cx="67.5" cy="138.9" r="3.2"/><circle cx="69.3" cy="155.4" r="3.1"/><circle cx="59.8" cy="158.7" r="3.5"/><circle cx="57.1" cy="162.7" r="3.6"/><circle cx="67.3" cy="164.3" r="3.2"/><circle cx="61.7" cy="183.6" r="3.4"/><circle cx="55.5" cy="187.4" r="3.6"/><circle cx="72.8" cy="179.7" r="3.0"/><circle cx="73.2" cy="186.8" r="3.0"/><circle cx="69.6" cy="192.7" r="3.1"/><circle cx="74.6" cy="195.7" r="2.9"/><circle cx="59.8" cy="201.0" r="3.5"/><circle cx="63.4" cy="200.4" r="3.4"/><circle cx="65.7" cy="199.2" r="3.3"/><circle cx="70.5" cy="198.0" r="3.1"/><circle cx="73.6" cy="202.2" r="3.0"/><circle cx="74.6" cy="205.7" r="2.9"/><circle cx="75.8" cy="210.4" r="2.9"/><circle cx="77.0" cy="212.2" r="2.8"/><circle cx="66.0" cy="48.0" r="3.3"/><circle cx="68.0" cy="52.0" r="3.2"/><circle cx="70.5" cy="46.0" r="3.1"/><circle cx="73.0" cy="50.0" r="3.0"/><circle cx="76.0" cy="44.0" r="2.9"/><circle cx="77.0" cy="48.5" r="2.8"/><circle cx="74.0" cy="40.0" r="3.0"/><circle cx="76.6" cy="47.7" r="2.9"/><circle cx="77.1" cy="49.9" r="2.8"/><circle cx="71.7" cy="41.3" r="3.0"/><circle cx="77.2" cy="44.5" r="2.8"/><circle cx="77.3" cy="50.7" r="2.8"/><circle cx="74.9" cy="48.7" r="2.9"/><circle cx="76.1" cy="52.2" r="2.9"/><circle cx="77.5" cy="44.8" r="2.8"/><circle cx="71.6" cy="66.3" r="3.1"/><circle cx="75.3" cy="63.0" r="2.9"/><circle cx="74.1" cy="55.7" r="3.0"/><circle cx="75.7" cy="68.7" r="2.9"/><circle cx="70.1" cy="54.2" r="3.1"/><circle cx="74.5" cy="54.9" r="2.9"/><circle cx="76.9" cy="73.3" r="2.8"/><circle cx="73.1" cy="67.6" r="3.0"/><circle cx="71.4" cy="76.6" r="3.1"/><circle cx="74.8" cy="58.0" r="2.9"/><circle cx="71.5" cy="76.6" r="3.1"/><circle cx="73.4" cy="66.9" r="3.0"/><circle cx="72.6" cy="63.1" r="3.0"/><circle cx="65.3" cy="67.0" r="3.3"/><circle cx="67.5" cy="54.0" r="3.2"/><circle cx="76.2" cy="62.1" r="2.9"/><circle cx="76.4" cy="67.8" r="2.9"/><circle cx="71.6" cy="55.2" r="3.1"/><circle cx="71.0" cy="57.9" r="3.1"/><circle cx="73.2" cy="53.1" r="3.0"/><circle cx="72.2" cy="69.1" r="3.0"/><circle cx="74.0" cy="70.5" r="3.0"/><circle cx="70.2" cy="73.0" r="3.1"/><circle cx="76.4" cy="65.1" r="2.9"/><circle cx="77.3" cy="54.7" r="2.8"/><circle cx="72.2" cy="54.6" r="3.0"/><circle cx="72.1" cy="73.2" r="3.0"/><circle cx="68.5" cy="63.1" r="3.2"/><circle cx="75.5" cy="62.8" r="2.9"/><circle cx="77.3" cy="54.5" r="2.8"/><circle cx="77.2" cy="58.2" r="2.8"/><circle cx="77.1" cy="70.1" r="2.8"/><circle cx="75.4" cy="56.0" r="2.9"/><circle cx="76.5" cy="59.4" r="2.9"/><circle cx="73.6" cy="59.3" r="3.0"/><circle cx="75.0" cy="74.4" r="2.9"/><circle cx="76.7" cy="59.5" r="2.8"/><circle cx="76.4" cy="61.1" r="2.9"/><circle cx="68.0" cy="67.9" r="3.2"/><circle cx="64.4" cy="54.2" r="3.3"/><circle cx="67.3" cy="92.8" r="3.2"/><circle cx="65.4" cy="73.1" r="3.3"/><circle cx="64.3" cy="91.3" r="3.3"/><circle cx="63.5" cy="94.2" r="3.4"/><circle cx="72.0" cy="90.5" r="3.0"/><circle cx="71.7" cy="76.2" r="3.1"/><circle cx="72.7" cy="79.8" r="3.0"/><circle cx="67.7" cy="63.8" r="3.2"/><circle cx="71.9" cy="76.6" r="3.0"/><circle cx="69.3" cy="82.0" r="3.1"/><circle cx="64.8" cy="102.0" r="3.3"/><circle cx="68.3" cy="113.2" r="3.2"/><circle cx="64.5" cy="110.4" r="3.3"/><circle cx="72.9" cy="68.7" r="3.0"/><circle cx="68.4" cy="90.9" r="3.2"/><circle cx="65.7" cy="77.8" r="3.3"/><circle cx="63.6" cy="97.2" r="3.4"/><circle cx="71.8" cy="105.3" r="3.0"/><circle cx="72.0" cy="72.8" r="3.0"/><circle cx="68.1" cy="105.3" r="3.2"/><circle cx="71.5" cy="97.5" r="3.1"/><circle cx="68.3" cy="66.8" r="3.2"/><circle cx="70.6" cy="74.3" r="3.1"/><circle cx="70.9" cy="67.7" r="3.1"/><circle cx="66.9" cy="68.1" r="3.2"/><circle cx="65.3" cy="64.7" r="3.3"/><circle cx="67.7" cy="82.3" r="3.2"/><circle cx="68.7" cy="70.7" r="3.2"/><circle cx="63.8" cy="109.8" r="3.3"/><circle cx="66.2" cy="73.3" r="3.3"/><circle cx="70.8" cy="76.4" r="3.1"/><circle cx="64.8" cy="91.0" r="3.3"/><circle cx="63.7" cy="65.2" r="3.3"/><circle cx="66.2" cy="106.6" r="3.3"/><circle cx="69.1" cy="86.3" r="3.2"/><circle cx="71.8" cy="106.2" r="3.0"/><circle cx="68.1" cy="90.6" r="3.2"/><circle cx="69.4" cy="101.1" r="3.1"/><circle cx="65.4" cy="86.3" r="3.3"/><circle cx="71.5" cy="84.4" r="3.1"/><circle cx="71.1" cy="119.0" r="3.1"/><circle cx="66.0" cy="116.3" r="3.3"/><circle cx="69.3" cy="145.7" r="3.1"/><circle cx="70.9" cy="116.1" r="3.1"/><circle cx="71.5" cy="131.1" r="3.1"/><circle cx="72.4" cy="149.6" r="3.0"/><circle cx="71.8" cy="146.2" r="3.0"/><circle cx="69.5" cy="128.2" r="3.1"/><circle cx="68.5" cy="116.8" r="3.2"/><circle cx="66.3" cy="137.7" r="3.3"/><circle cx="69.6" cy="128.0" r="3.1"/><circle cx="68.6" cy="119.8" r="3.2"/><circle cx="69.1" cy="137.8" r="3.2"/><circle cx="66.1" cy="139.9" r="3.3"/><circle cx="66.0" cy="105.3" r="3.3"/><circle cx="77.6" cy="115.3" r="2.8"/><circle cx="76.9" cy="88.1" r="2.8"/><circle cx="77.2" cy="90.6" r="2.8"/><circle cx="74.0" cy="72.3" r="3.0"/><circle cx="69.2" cy="80.8" r="3.1"/><circle cx="73.9" cy="63.7" r="3.0"/><circle cx="77.6" cy="79.2" r="2.8"/><circle cx="75.8" cy="116.1" r="2.9"/><circle cx="76.4" cy="64.9" r="2.9"/><circle cx="77.6" cy="87.2" r="2.8"/><circle cx="70.1" cy="95.7" r="3.1"/><circle cx="72.0" cy="86.1" r="3.0"/><circle cx="76.9" cy="118.1" r="2.8"/><circle cx="71.8" cy="108.9" r="3.0"/><circle cx="68.9" cy="113.2" r="3.2"/><circle cx="70.8" cy="104.0" r="3.1"/><circle cx="76.3" cy="90.2" r="2.9"/><circle cx="75.9" cy="65.1" r="2.9"/><circle cx="77.4" cy="80.1" r="2.8"/><circle cx="64.8" cy="72.7" r="3.3"/><circle cx="73.2" cy="112.7" r="3.0"/><circle cx="77.1" cy="103.8" r="2.8"/><circle cx="74.1" cy="98.6" r="3.0"/><circle cx="64.4" cy="65.8" r="3.3"/><circle cx="74.5" cy="63.6" r="2.9"/><circle cx="77.0" cy="82.5" r="2.8"/><circle cx="75.0" cy="78.5" r="2.9"/><circle cx="70.2" cy="98.9" r="3.1"/><circle cx="77.1" cy="104.7" r="2.8"/><circle cx="77.1" cy="110.1" r="2.8"/><circle cx="72.4" cy="86.1" r="3.0"/><circle cx="75.3" cy="110.0" r="2.9"/><circle cx="75.0" cy="86.9" r="2.9"/><circle cx="75.1" cy="95.9" r="2.9"/><circle cx="77.4" cy="118.0" r="2.8"/><circle cx="76.7" cy="95.4" r="2.8"/><circle cx="76.7" cy="76.8" r="2.8"/><circle cx="76.7" cy="73.0" r="2.8"/><circle cx="75.5" cy="113.7" r="2.9"/><circle cx="76.3" cy="97.3" r="2.9"/><circle cx="76.8" cy="76.3" r="2.8"/><circle cx="71.8" cy="81.6" r="3.0"/><circle cx="75.3" cy="93.7" r="2.9"/><circle cx="74.6" cy="67.5" r="2.9"/><circle cx="77.4" cy="108.8" r="2.8"/><circle cx="76.3" cy="114.3" r="2.9"/><circle cx="74.2" cy="113.9" r="3.0"/><circle cx="76.4" cy="95.3" r="2.9"/><circle cx="68.7" cy="90.4" r="3.2"/><circle cx="77.1" cy="105.3" r="2.8"/><circle cx="76.3" cy="101.9" r="2.9"/><circle cx="73.7" cy="68.2" r="3.0"/><circle cx="77.0" cy="95.0" r="2.8"/><circle cx="77.2" cy="116.3" r="2.8"/><circle cx="74.2" cy="71.7" r="3.0"/><circle cx="74.4" cy="110.2" r="2.9"/><circle cx="75.3" cy="115.6" r="2.9"/><circle cx="77.3" cy="100.2" r="2.8"/><circle cx="73.5" cy="77.6" r="3.0"/><circle cx="77.0" cy="90.5" r="2.8"/><circle cx="75.8" cy="81.6" r="2.9"/><circle cx="77.3" cy="82.1" r="2.8"/><circle cx="77.6" cy="68.6" r="2.8"/><circle cx="76.0" cy="106.5" r="2.9"/><circle cx="77.3" cy="107.8" r="2.8"/><circle cx="64.4" cy="80.6" r="3.3"/><circle cx="76.6" cy="100.2" r="2.9"/><circle cx="76.8" cy="81.6" r="2.8"/><circle cx="73.8" cy="96.6" r="3.0"/><circle cx="77.1" cy="94.9" r="2.8"/><circle cx="75.1" cy="115.0" r="2.9"/><circle cx="69.5" cy="63.7" r="3.1"/><circle cx="75.4" cy="113.3" r="2.9"/><circle cx="76.9" cy="91.7" r="2.8"/><circle cx="75.4" cy="81.6" r="2.9"/><circle cx="76.5" cy="73.9" r="2.9"/><circle cx="72.2" cy="66.9" r="3.0"/><circle cx="77.1" cy="92.5" r="2.8"/><circle cx="77.2" cy="92.0" r="2.8"/><circle cx="73.7" cy="80.7" r="3.0"/><circle cx="65.5" cy="86.7" r="3.3"/><circle cx="73.6" cy="116.4" r="3.0"/><circle cx="77.2" cy="74.3" r="2.8"/><circle cx="77.4" cy="101.0" r="2.8"/><circle cx="73.5" cy="86.4" r="3.0"/><circle cx="73.8" cy="99.5" r="3.0"/><circle cx="73.6" cy="98.5" r="3.0"/><circle cx="65.3" cy="103.5" r="3.3"/><circle cx="77.6" cy="94.5" r="2.8"/><circle cx="73.4" cy="113.8" r="3.0"/><circle cx="74.3" cy="70.8" r="2.9"/><circle cx="71.0" cy="110.2" r="3.1"/><circle cx="77.2" cy="79.0" r="2.8"/><circle cx="74.0" cy="97.7" r="3.0"/><circle cx="77.5" cy="118.7" r="2.8"/><circle cx="70.9" cy="99.2" r="3.1"/><circle cx="76.4" cy="63.4" r="2.9"/><circle cx="72.6" cy="68.3" r="3.0"/><circle cx="74.7" cy="70.7" r="2.9"/><circle cx="74.3" cy="64.9" r="2.9"/><circle cx="74.9" cy="66.1" r="2.9"/><circle cx="75.2" cy="107.9" r="2.9"/><circle cx="76.3" cy="92.0" r="2.9"/><circle cx="75.3" cy="98.1" r="2.9"/><circle cx="76.8" cy="86.2" r="2.8"/><circle cx="75.3" cy="103.4" r="2.9"/><circle cx="75.9" cy="90.8" r="2.9"/><circle cx="76.9" cy="81.9" r="2.8"/><circle cx="76.6" cy="89.3" r="2.9"/><circle cx="73.7" cy="76.0" r="3.0"/><circle cx="75.3" cy="75.4" r="2.9"/><circle cx="69.2" cy="105.0" r="3.1"/><circle cx="76.1" cy="90.4" r="2.9"/><circle cx="75.9" cy="102.7" r="2.9"/><circle cx="72.1" cy="79.4" r="3.0"/><circle cx="73.4" cy="92.0" r="3.0"/><circle cx="75.7" cy="107.0" r="2.9"/><circle cx="76.4" cy="99.0" r="2.9"/><circle cx="73.1" cy="98.9" r="3.0"/><circle cx="77.0" cy="128.4" r="2.8"/><circle cx="73.6" cy="146.3" r="3.0"/><circle cx="74.6" cy="131.2" r="2.9"/><circle cx="74.5" cy="131.9" r="2.9"/><circle cx="77.4" cy="144.9" r="2.8"/><circle cx="77.5" cy="141.7" r="2.8"/><circle cx="75.6" cy="120.2" r="2.9"/><circle cx="68.6" cy="130.7" r="3.2"/><circle cx="76.9" cy="125.9" r="2.8"/><circle cx="77.3" cy="142.6" r="2.8"/><circle cx="74.1" cy="126.2" r="3.0"/><circle cx="76.4" cy="137.2" r="2.9"/><circle cx="75.8" cy="145.0" r="2.9"/><circle cx="71.6" cy="129.2" r="3.1"/><circle cx="72.3" cy="124.3" r="3.0"/><circle cx="76.2" cy="138.9" r="2.9"/><circle cx="68.0" cy="143.4" r="3.2"/><circle cx="77.1" cy="148.1" r="2.8"/><circle cx="70.9" cy="144.6" r="3.1"/><circle cx="76.5" cy="124.1" r="2.9"/><circle cx="71.8" cy="124.2" r="3.0"/><circle cx="77.0" cy="139.4" r="2.8"/><circle cx="76.4" cy="127.0" r="2.9"/><circle cx="71.5" cy="150.4" r="3.1"/><circle cx="76.3" cy="138.9" r="2.9"/><circle cx="76.8" cy="133.4" r="2.8"/><circle cx="76.3" cy="153.9" r="2.9"/><circle cx="77.6" cy="141.1" r="2.8"/><circle cx="73.8" cy="141.4" r="3.0"/><circle cx="74.6" cy="142.7" r="2.9"/><circle cx="77.0" cy="132.3" r="2.8"/><circle cx="74.6" cy="153.9" r="2.9"/><circle cx="76.7" cy="132.8" r="2.8"/><circle cx="72.5" cy="147.5" r="3.0"/><circle cx="76.9" cy="122.1" r="2.8"/><circle cx="75.3" cy="133.7" r="2.9"/><circle cx="77.5" cy="143.1" r="2.8"/><circle cx="74.9" cy="143.0" r="2.9"/><circle cx="75.7" cy="133.1" r="2.9"/><circle cx="77.0" cy="150.3" r="2.8"/><circle cx="76.2" cy="143.5" r="2.9"/><circle cx="71.5" cy="141.7" r="3.1"/><circle cx="67.3" cy="150.5" r="3.2"/><circle cx="72.5" cy="146.1" r="3.0"/><circle cx="75.3" cy="145.9" r="2.9"/><circle cx="77.5" cy="141.2" r="2.8"/><circle cx="73.2" cy="126.2" r="3.0"/><circle cx="73.7" cy="145.0" r="3.0"/><circle cx="67.3" cy="137.5" r="3.2"/><circle cx="76.3" cy="152.7" r="2.9"/><circle cx="75.0" cy="146.5" r="2.9"/><circle cx="72.7" cy="126.8" r="3.0"/><circle cx="76.3" cy="135.0" r="2.9"/><circle cx="77.3" cy="126.0" r="2.8"/><circle cx="73.9" cy="145.3" r="3.0"/><circle cx="67.3" cy="138.9" r="3.2"/><circle cx="76.0" cy="151.4" r="2.9"/><circle cx="77.6" cy="147.0" r="2.8"/><circle cx="77.4" cy="179.9" r="2.8"/><circle cx="76.4" cy="172.2" r="2.9"/><circle cx="76.9" cy="168.3" r="2.8"/><circle cx="76.1" cy="162.9" r="2.9"/><circle cx="77.2" cy="155.2" r="2.8"/><circle cx="76.2" cy="168.3" r="2.9"/><circle cx="73.5" cy="172.1" r="3.0"/><circle cx="73.3" cy="176.6" r="3.0"/><circle cx="76.8" cy="172.5" r="2.8"/><circle cx="75.9" cy="165.4" r="2.9"/><circle cx="77.4" cy="174.6" r="2.8"/><circle cx="76.7" cy="155.9" r="2.9"/><circle cx="75.4" cy="179.3" r="2.9"/><circle cx="76.8" cy="167.7" r="2.8"/><circle cx="73.8" cy="173.3" r="3.0"/><circle cx="76.5" cy="173.1" r="2.9"/><circle cx="76.7" cy="155.8" r="2.8"/><circle cx="77.2" cy="171.3" r="2.8"/><circle cx="75.4" cy="164.0" r="2.9"/><circle cx="76.5" cy="170.1" r="2.9"/><circle cx="74.4" cy="176.0" r="2.9"/><circle cx="73.9" cy="169.8" r="3.0"/><circle cx="74.9" cy="172.0" r="2.9"/><circle cx="77.1" cy="181.7" r="2.8"/><circle cx="75.2" cy="155.7" r="2.9"/><circle cx="76.2" cy="163.7" r="2.9"/><circle cx="77.1" cy="169.3" r="2.8"/><circle cx="75.5" cy="177.7" r="2.9"/><circle cx="77.0" cy="163.2" r="2.8"/><circle cx="77.3" cy="164.5" r="2.8"/><circle cx="77.2" cy="165.4" r="2.8"/><circle cx="76.8" cy="168.3" r="2.8"/><circle cx="77.3" cy="167.2" r="2.8"/><circle cx="75.6" cy="169.0" r="2.9"/><circle cx="76.8" cy="178.7" r="2.8"/><circle cx="76.0" cy="163.6" r="2.9"/><circle cx="74.5" cy="165.3" r="2.9"/><circle cx="77.1" cy="166.6" r="2.8"/><circle cx="74.5" cy="199.8" r="2.9"/><circle cx="75.1" cy="195.9" r="2.9"/><circle cx="76.6" cy="202.2" r="2.9"/><circle cx="74.6" cy="183.4" r="2.9"/><circle cx="77.4" cy="193.2" r="2.8"/><circle cx="77.5" cy="194.5" r="2.8"/><circle cx="71.7" cy="184.5" r="3.0"/><circle cx="77.1" cy="190.9" r="2.8"/><circle cx="77.3" cy="187.3" r="2.8"/><circle cx="76.3" cy="187.8" r="2.9"/><circle cx="73.7" cy="213.0" r="3.0"/><circle cx="74.5" cy="199.8" r="2.9"/><circle cx="76.3" cy="192.1" r="2.9"/><circle cx="77.2" cy="186.7" r="2.8"/><circle cx="76.9" cy="185.6" r="2.8"/><circle cx="76.9" cy="212.7" r="2.8"/><circle cx="77.5" cy="211.4" r="2.8"/><circle cx="77.4" cy="194.1" r="2.8"/><circle cx="77.0" cy="208.5" r="2.8"/><circle cx="73.2" cy="204.8" r="3.0"/><circle cx="74.0" cy="185.4" r="3.0"/><circle cx="76.6" cy="182.8" r="2.9"/></g>
<g fill="#FF0000" fill-opacity="0.45"><circle cx="144.5" cy="126.1" r="3.1"/><circle cx="138.4" cy="154.2" r="2.9"/><circle cx="136.5" cy="158" r="2.8"/><circle cx="139.3" cy="156.1" r="2.9"/><circle cx="147" cy="159.4" r="3.2"/><circle cx="138.8" cy="163.8" r="2.9"/><circle cx="151.4" cy="171" r="3.4"/><circle cx="139.9" cy="176.6" r="3.0"/><circle cx="144.1" cy="176.8" r="3.1"/><circle cx="138" cy="181" r="2.9"/><circle cx="145.5" cy="186.7" r="3.2"/><circle cx="139.9" cy="192" r="3.0"/><circle cx="143.2" cy="192" r="3.1"/><circle cx="138" cy="200.5" r="2.9"/><circle cx="137.8" cy="209.6" r="2.9"/><circle cx="137.5" cy="179.5" r="2.9"/></g>
<path d="M27.3 215.86H186.6M77.60 14.6V235.8M136.20 14.6V235.8" stroke="#000" stroke-width="0.8" stroke-dasharray="2.5 2.2" stroke-dashoffset="2.45" fill="none"/>
<path d="M25.900000000000002 226.20H27.3M25.900000000000002 186.45H27.3M25.900000000000002 146.70H27.3M25.900000000000002 106.95H27.3M25.900000000000002 67.20H27.3M25.900000000000002 27.45H27.3M48.30 235.8v1.4M77.60 235.8v1.4M106.90 235.8v1.4M136.20 235.8v1.4M165.50 235.8v1.4" stroke="#333" stroke-width="0.5" fill="none"/>
<text x="24.70" y="227.93" font-size="4.8" text-anchor="end" fill="#4D4D4D" style="stroke:none">0</text>
<text x="24.70" y="188.18" font-size="4.8" text-anchor="end" fill="#4D4D4D" style="stroke:none">5</text>
<text x="24.70" y="148.43" font-size="4.8" text-anchor="end" fill="#4D4D4D" style="stroke:none">10</text>
<text x="24.70" y="108.68" font-size="4.8" text-anchor="end" fill="#4D4D4D" style="stroke:none">15</text>
<text x="24.70" y="68.93" font-size="4.8" text-anchor="end" fill="#4D4D4D" style="stroke:none">20</text>
<text x="24.70" y="29.18" font-size="4.8" text-anchor="end" fill="#4D4D4D" style="stroke:none">25</text>
<text x="48.30" y="242.53" font-size="4.8" text-anchor="middle" fill="#4D4D4D" style="stroke:none">-2</text>
<text x="77.60" y="242.53" font-size="4.8" text-anchor="middle" fill="#4D4D4D" style="stroke:none">-1</text>
<text x="106.90" y="242.53" font-size="4.8" text-anchor="middle" fill="#4D4D4D" style="stroke:none">0</text>
<text x="136.20" y="242.53" font-size="4.8" text-anchor="middle" fill="#4D4D4D" style="stroke:none">1</text>
<text x="165.50" y="242.53" font-size="4.8" text-anchor="middle" fill="#4D4D4D" style="stroke:none">2</text>
<text x="107.20" y="249.80" font-size="6.1" text-anchor="middle">log2(FC)</text>
<text transform="translate(14.20,125.50) rotate(-90)" y="2.23" font-size="6.2" text-anchor="middle">−log10(P.Value)</text>
<text x="196.00" y="81.72" font-size="5.9">type</text>
<rect x="196" y="85.2" width="9.7" height="29.6" fill="#F2F2F2"/>
<circle cx="200.8" cy="90.1" r="0.85" fill="#0000FF" fill-opacity="0.5"/>
<text x="209.00" y="91.94" font-size="5.1">down−regulated</text>
<circle cx="200.8" cy="100.0" r="0.85" fill="#BEBEBE" fill-opacity="0.5"/>
<text x="209.00" y="101.84" font-size="5.1">none significant</text>
<circle cx="200.8" cy="109.89999999999999" r="0.85" fill="#FF0000" fill-opacity="0.5"/>
<text x="209.00" y="111.74" font-size="5.1">up−regulated</text>
<text x="196.00" y="131.76" font-size="6.0">abs(logFC)</text>
<rect x="196" y="135.5" width="10" height="38.6" fill="#F2F2F2"/>
<circle cx="201" cy="140.4" r="2.15" fill="#000" fill-opacity="0.45"/>
<text x="209.00" y="142.24" font-size="5.1">0.5</text>
<circle cx="201" cy="150.3" r="2.65" fill="#000" fill-opacity="0.45"/>
<text x="209.00" y="152.14" font-size="5.1">1.0</text>
<circle cx="201" cy="159.7" r="3.25" fill="#000" fill-opacity="0.45"/>
<text x="209.00" y="161.54" font-size="5.1">1.5</text>
<circle cx="201" cy="169.1" r="3.8" fill="#000" fill-opacity="0.45"/>
<text x="209.00" y="170.94" font-size="5.1">2.0</text>
</g>
<g id="panelB">
<text x="257.60" y="11.86" font-size="10.3" font-weight="bold">B</text>
<text x="419.40" y="11.86" font-size="10.3" text-anchor="middle" font-weight="bold">GO</text>
<rect x="381.4" y="15.1" width="66.1" height="74.8" fill="#fff"/>
<path d="M386.45 15.1V89.9M402.75 15.1V89.9M419.05 15.1V89.9M435.35 15.1V89.9" stroke="#EAEAEA" stroke-width="0.4" fill="none"/>
<path d="M394.60 15.1V89.9M410.90 15.1V89.9M427.20 15.1V89.9M443.50 15.1V89.9M381.4 19.30H447.5M381.4 26.66H447.5M381.4 34.02H447.5M381.4 41.38H447.5M381.4 48.74H447.5M381.4 56.10H447.5M381.4 63.46H447.5M381.4 70.82H447.5M381.4 78.18H447.5M381.4 85.54H447.5" stroke="#DFDFDF" stroke-width="0.55" fill="none"/>
<rect x="447.5" y="15.1" width="7.3" height="74.8" fill="#D9D9D9" stroke="#444" stroke-width="0.6"/>
<text transform="translate(451.15,52.50) rotate(90)" y="1.22" font-size="3.4" text-anchor="middle" fill="#1A1A1A" style="stroke:none">BP</text>
<circle cx="443.5" cy="19.30" r="4.3" fill="#FF0000"/>
<text x="378.20" y="21.21" font-size="5.3" text-anchor="end">mononuclear cell differentiation</text>
<circle cx="440.2" cy="26.66" r="4.25" fill="#FF0000"/>
<text x="378.20" y="28.57" font-size="5.3" text-anchor="end">B cell activation</text>
<circle cx="440.2" cy="34.02" r="4.25" fill="#FF0000"/>
<text x="378.20" y="35.93" font-size="5.3" text-anchor="end">activation of immune response</text>
<circle cx="440.2" cy="41.38" r="4.2" fill="#FF0000"/>
<text x="378.20" y="43.29" font-size="5.3" text-anchor="end">lymphocyte differentiation</text>
<circle cx="431.5" cy="48.74" r="4.0" fill="#FF0000"/>
<text x="378.20" y="48.05" font-size="5.3" text-anchor="end">immune response−regulating cell surface receptor</text>
<text x="378.20" y="53.25" font-size="5.3" text-anchor="end">signaling pathway</text>
<circle cx="431.5" cy="56.10" r="4.0" fill="#FF0000"/>
<text x="378.20" y="58.01" font-size="5.3" text-anchor="end">leukocyte cell−cell adhesion</text>
<circle cx="430.4" cy="63.46" r="3.95" fill="#FF0000"/>
<text x="378.20" y="62.77" font-size="5.3" text-anchor="end">immune response−activating cell surface receptor</text>
<text x="378.20" y="67.97" font-size="5.3" text-anchor="end">signaling pathway</text>
<circle cx="430.4" cy="70.82" r="3.95" fill="#FF0000"/>
<text x="378.20" y="72.73" font-size="5.3" text-anchor="end">immune response−activating signal transduction</text>
<circle cx="429.3" cy="78.18" r="3.9" fill="#FF0000"/>
<text x="378.20" y="80.09" font-size="5.3" text-anchor="end">antigen receptor−mediated signaling pathway</text>
<circle cx="425.5" cy="85.54" r="3.8" fill="#FF0000"/>
<text x="378.20" y="87.45" font-size="5.3" text-anchor="end">lymphocyte proliferation</text>
<path d="M379.9 19.30H381.4M379.9 26.66H381.4M379.9 34.02H381.4M379.9 41.38H381.4M379.9 48.74H381.4M379.9 56.10H381.4M379.9 63.46H381.4M379.9 70.82H381.4M379.9 78.18H381.4M379.9 85.54H381.4" stroke="#333" stroke-width="0.5" fill="none"/>
<rect x="381.4" y="15.1" width="66.1" height="74.8" fill="none" stroke="#333" stroke-width="0.6"/>
<rect x="381.4" y="92.5" width="66.1" height="75.0" fill="#fff"/>
<path d="M386.45 92.5V167.5M402.75 92.5V167.5M419.05 92.5V167.5M435.35 92.5V167.5" stroke="#EAEAEA" stroke-width="0.4" fill="none"/>
<path d="M394.60 92.5V167.5M410.90 92.5V167.5M427.20 92.5V167.5M443.50 92.5V167.5M381.4 96.90H447.5M381.4 104.25H447.5M381.4 111.60H447.5M381.4 118.95H447.5M381.4 126.30H447.5M381.4 133.65H447.5M381.4 141.00H447.5M381.4 148.35H447.5M381.4 155.70H447.5M381.4 163.05H447.5" stroke="#DFDFDF" stroke-width="0.55" fill="none"/>
<rect x="447.5" y="92.5" width="7.3" height="75.0" fill="#D9D9D9" stroke="#444" stroke-width="0.6"/>
<text transform="translate(451.15,130.00) rotate(90)" y="1.22" font-size="3.4" text-anchor="middle" fill="#1A1A1A" style="stroke:none">CC</text>
<circle cx="423.1" cy="96.90" r="3.85" fill="#FF0000"/>
<text x="378.20" y="98.81" font-size="5.3" text-anchor="end">external side of plasma membrane</text>
<circle cx="404.1" cy="104.25" r="3.5" fill="#FF0000"/>
<text x="378.20" y="106.16" font-size="5.3" text-anchor="end">collagen−containing extracellular matrix</text>
<circle cx="402.7" cy="111.60" r="3.4" fill="#FF0000"/>
<text x="378.20" y="113.51" font-size="5.3" text-anchor="end">secretory granule lumen</text>
<circle cx="402.7" cy="118.95" r="3.4" fill="#FF0000"/>
<text x="378.20" y="120.86" font-size="5.3" text-anchor="end">cytoplasmic vesicle lumen</text>
<circle cx="402.7" cy="126.30" r="3.4" fill="#FF0000"/>
<text x="378.20" y="128.21" font-size="5.3" text-anchor="end">vesicle lumen</text>
<circle cx="401.6" cy="133.65" r="3.35" fill="#FF0000"/>
<text x="378.20" y="135.56" font-size="5.3" text-anchor="end">plasma membrane signaling receptor complex</text>
<circle cx="401.6" cy="141.00" r="3.35" fill="#FF0000"/>
<text x="378.20" y="142.91" font-size="5.3" text-anchor="end">membrane raft</text>
<circle cx="401.6" cy="148.35" r="3.35" fill="#FF0000"/>
<text x="378.20" y="150.26" font-size="5.3" text-anchor="end">membrane microdomain</text>
<circle cx="391.8" cy="155.70" r="2.7" fill="#FF0000"/>
<text x="378.20" y="157.61" font-size="5.3" text-anchor="end">immunological synapse</text>
<circle cx="385.0" cy="163.05" r="2.1" fill="#FF0000"/>
<text x="378.20" y="164.96" font-size="5.3" text-anchor="end">alpha−beta T cell receptor complex</text>
<path d="M379.9 96.90H381.4M379.9 104.25H381.4M379.9 111.60H381.4M379.9 118.95H381.4M379.9 126.30H381.4M379.9 133.65H381.4M379.9 141.00H381.4M379.9 148.35H381.4M379.9 155.70H381.4M379.9 163.05H381.4" stroke="#333" stroke-width="0.5" fill="none"/>
<rect x="381.4" y="92.5" width="66.1" height="75.0" fill="none" stroke="#333" stroke-width="0.6"/>
<rect x="381.4" y="170.4" width="66.1" height="75.0" fill="#fff"/>
<path d="M386.45 170.4V245.4M402.75 170.4V245.4M419.05 170.4V245.4M435.35 170.4V245.4" stroke="#EAEAEA" stroke-width="0.4" fill="none"/>
<path d="M394.60 170.4V245.4M410.90 170.4V245.4M427.20 170.4V245.4M443.50 170.4V245.4M381.4 174.60H447.5M381.4 181.95H447.5M381.4 189.30H447.5M381.4 196.65H447.5M381.4 204.00H447.5M381.4 211.35H447.5M381.4 218.70H447.5M381.4 226.05H447.5M381.4 233.40H447.5M381.4 240.75H447.5" stroke="#DFDFDF" stroke-width="0.55" fill="none"/>
<rect x="447.5" y="170.4" width="7.3" height="75.0" fill="#D9D9D9" stroke="#444" stroke-width="0.6"/>
<text transform="translate(451.15,207.90) rotate(90)" y="1.22" font-size="3.4" text-anchor="middle" fill="#1A1A1A" style="stroke:none">MF</text>
<circle cx="394.9" cy="174.60" r="2.9" fill="#5800EE"/>
<text x="378.20" y="176.51" font-size="5.3" text-anchor="end">cytokine receptor binding</text>
<circle cx="393.7" cy="181.95" r="2.75" fill="#5200F0"/>
<text x="378.20" y="183.86" font-size="5.3" text-anchor="end">cytokine activity</text>
<circle cx="392.4" cy="189.30" r="2.75" fill="#F40032"/>
<text x="378.20" y="191.21" font-size="5.3" text-anchor="end">immune receptor activity</text>
<circle cx="390.1" cy="196.65" r="2.6" fill="#5200F0"/>
<text x="378.20" y="198.56" font-size="5.3" text-anchor="end">cytokine binding</text>
<circle cx="388.7" cy="204.00" r="2.5" fill="#6800E7"/>
<text x="378.20" y="205.91" font-size="5.3" text-anchor="end">cytokine receptor activity</text>
<circle cx="387.3" cy="211.35" r="2.5" fill="#F90021"/>
<text x="378.20" y="213.26" font-size="5.3" text-anchor="end">SH2 domain binding</text>
<circle cx="385.0" cy="218.70" r="2.1" fill="#7100E2"/>
<text x="378.20" y="220.61" font-size="5.3" text-anchor="end">chemokine binding</text>
<circle cx="383.7" cy="226.05" r="1.8" fill="#5E00EB"/>
<text x="378.20" y="227.96" font-size="5.3" text-anchor="end">purinergic nucleotide receptor activity</text>
<circle cx="383.7" cy="233.40" r="1.8" fill="#5E00EB"/>
<text x="378.20" y="235.31" font-size="5.3" text-anchor="end">nucleotide receptor activity</text>
<circle cx="383.7" cy="240.75" r="1.8" fill="#0000FF"/>
<text x="378.20" y="242.66" font-size="5.3" text-anchor="end">C−C chemokine receptor activity</text>
<path d="M379.9 174.60H381.4M379.9 181.95H381.4M379.9 189.30H381.4M379.9 196.65H381.4M379.9 204.00H381.4M379.9 211.35H381.4M379.9 218.70H381.4M379.9 226.05H381.4M379.9 233.40H381.4M379.9 240.75H381.4" stroke="#333" stroke-width="0.5" fill="none"/>
<rect x="381.4" y="170.4" width="66.1" height="75.0" fill="none" stroke="#333" stroke-width="0.6"/>
<text x="394.60" y="251.60" font-size="5.0" text-anchor="middle">0.05</text>
<text x="410.90" y="251.60" font-size="5.0" text-anchor="middle">0.10</text>
<text x="427.20" y="251.60" font-size="5.0" text-anchor="middle">0.15</text>
<text x="443.50" y="251.60" font-size="5.0" text-anchor="middle">0.20</text>
<path d="M394.60 245.4v1.5M410.90 245.4v1.5M427.20 245.4v1.5M443.50 245.4v1.5" stroke="#333" stroke-width="0.5" fill="none"/>
<text x="414.20" y="258.13" font-size="5.35" text-anchor="middle">GeneRatio</text>
<text x="462.40" y="81.93" font-size="4.8">Count</text>
<circle cx="467.4" cy="88.6" r="2.65" fill="#000"/>
<text x="475.00" y="89.97" font-size="3.8">10</text>
<circle cx="467.4" cy="96.2" r="3.2" fill="#000"/>
<text x="475.00" y="97.57" font-size="3.8">20</text>
<circle cx="467.4" cy="104.3" r="3.7" fill="#000"/>
<text x="475.00" y="105.67" font-size="3.8">30</text>
<circle cx="467.4" cy="113.0" r="4.1" fill="#000"/>
<text x="475.00" y="114.37" font-size="3.8">40</text>
<circle cx="467.4" cy="122.8" r="4.5" fill="#000"/>
<text x="475.00" y="124.17" font-size="3.8">50</text>
<text x="462.20" y="141.63" font-size="4.8">p.adjust</text>
<defs><linearGradient id="gradB" x1="0" y1="0" x2="0" y2="1"><stop offset="0.0" stop-color="#0000FF"/><stop offset="0.1" stop-color="#6800E7"/><stop offset="0.2" stop-color="#8D00CE"/><stop offset="0.3" stop-color="#A600B7"/><stop offset="0.4" stop-color="#BA009F"/><stop offset="0.5" stop-color="#CA0088"/><stop offset="0.6" stop-color="#D70072"/><stop offset="0.7" stop-color="#E3005B"/><stop offset="0.8" stop-color="#ED0044"/><stop offset="0.9" stop-color="#F6002A"/><stop offset="1.0" stop-color="#FF0000"/></linearGradient></defs>
<rect x="462.2" y="144.3" width="7.6" height="38.1" fill="url(#gradB)"/>
<text x="472.50" y="148.37" font-size="3.8">0.0100</text>
<text x="472.50" y="157.57" font-size="3.8">0.0075</text>
<text x="472.50" y="166.57" font-size="3.8">0.0050</text>
<text x="472.50" y="175.27" font-size="3.8">0.0025</text>
</g>
<g id="panelC">
<text x="3.40" y="294.51" font-size="10.3" font-weight="bold">C</text>
<text x="163.30" y="301.51" font-size="10.3" text-anchor="middle" font-weight="bold">KEGG</text>
<rect x="119.2" y="304.8" width="86.3" height="230.0" fill="#fff"/>
<path d="M127.40 304.8V534.8M145.80 304.8V534.8M164.20 304.8V534.8M182.60 304.8V534.8M201.00 304.8V534.8" stroke="#EAEAEA" stroke-width="0.4" fill="none"/>
<path d="M136.60 304.8V534.8M155.00 304.8V534.8M173.40 304.8V534.8M191.80 304.8V534.8M119.2 311.60H205.5M119.2 322.99H205.5M119.2 334.38H205.5M119.2 345.77H205.5M119.2 357.16H205.5M119.2 368.55H205.5M119.2 379.94H205.5M119.2 391.33H205.5M119.2 402.72H205.5M119.2 414.11H205.5M119.2 425.50H205.5M119.2 436.89H205.5M119.2 448.28H205.5M119.2 459.67H205.5M119.2 471.06H205.5M119.2 482.45H205.5M119.2 493.84H205.5M119.2 505.23H205.5M119.2 516.62H205.5M119.2 528.01H205.5" stroke="#DFDFDF" stroke-width="0.55" fill="none"/>
<circle cx="201.8" cy="311.60" r="4.2" fill="#FF0000"/>
<text x="116.40" y="313.53" font-size="5.35" text-anchor="end">Cytokine−cytokine receptor interaction</text>
<circle cx="159.4" cy="322.99" r="3.6" fill="#FF0000"/>
<text x="116.40" y="324.92" font-size="5.35" text-anchor="end">Chemokine signaling pathway</text>
<circle cx="149.0" cy="334.38" r="3.4" fill="#FF0000"/>
<text x="116.40" y="336.31" font-size="5.35" text-anchor="end">Hematopoietic cell lineage</text>
<circle cx="149.0" cy="345.77" r="3.4" fill="#FF0000"/>
<text x="116.40" y="345.20" font-size="5.35" text-anchor="end">Viral protein interaction with cytokine and</text>
<text x="116.40" y="350.30" font-size="5.35" text-anchor="end">cytokine receptor</text>
<circle cx="149.0" cy="357.16" r="3.4" fill="#FF0000"/>
<text x="116.40" y="359.09" font-size="5.35" text-anchor="end">NF−kappa B signaling pathway</text>
<circle cx="149.0" cy="368.55" r="3.4" fill="#FF0000"/>
<text x="116.40" y="370.48" font-size="5.35" text-anchor="end">Cell adhesion molecules</text>
<circle cx="143.6" cy="379.94" r="3.2" fill="#FF0000"/>
<text x="116.40" y="381.87" font-size="5.35" text-anchor="end">Primary immunodeficiency</text>
<circle cx="143.6" cy="391.33" r="3.2" fill="#FF0000"/>
<text x="116.40" y="393.26" font-size="5.35" text-anchor="end">B cell receptor signaling pathway</text>
<circle cx="143.6" cy="402.72" r="3.2" fill="#FF0000"/>
<text x="116.40" y="404.65" font-size="5.35" text-anchor="end">Leukocyte transendothelial migration</text>
<circle cx="138.2" cy="414.11" r="3.0" fill="#FF0000"/>
<text x="116.40" y="416.04" font-size="5.35" text-anchor="end">T cell receptor signaling pathway</text>
<circle cx="138.2" cy="425.50" r="3.0" fill="#FF0000"/>
<text x="116.40" y="427.43" font-size="5.35" text-anchor="end">Th17 cell differentiation</text>
<circle cx="138.2" cy="436.89" r="3.0" fill="#FF0000"/>
<text x="116.40" y="438.82" font-size="5.35" text-anchor="end">Natural killer cell mediated cytotoxicity</text>
<circle cx="132.9" cy="448.28" r="2.7" fill="#FF0000"/>
<text x="116.40" y="450.21" font-size="5.35" text-anchor="end">Staphylococcus aureus infection</text>
<circle cx="128.0" cy="459.67" r="2.5" fill="#FF0000"/>
<text x="116.40" y="461.60" font-size="5.35" text-anchor="end">Leishmaniasis</text>
<circle cx="128.0" cy="471.06" r="2.5" fill="#FF0000"/>
<text x="116.40" y="472.99" font-size="5.35" text-anchor="end">Th1 and Th2 cell differentiation</text>
<circle cx="122.7" cy="482.45" r="1.9" fill="#FD000D"/>
<text x="116.40" y="484.38" font-size="5.35" text-anchor="end">Intestinal immune network for IgA production</text>
<circle cx="122.7" cy="493.84" r="1.9" fill="#F6002A"/>
<text x="116.40" y="495.77" font-size="5.35" text-anchor="end">Pertussis</text>
<circle cx="122.7" cy="505.23" r="1.9" fill="#E80050"/>
<text x="116.40" y="507.16" font-size="5.35" text-anchor="end">Complement and coagulation cascades</text>
<circle cx="122.7" cy="516.62" r="1.9" fill="#C20094"/>
<text x="116.40" y="518.55" font-size="5.35" text-anchor="end">Rheumatoid arthritis</text>
<circle cx="122.7" cy="528.01" r="1.9" fill="#0000FF"/>
<text x="116.40" y="529.94" font-size="5.35" text-anchor="end">Chagas disease</text>
<text x="136.60" y="541.38" font-size="5.5" text-anchor="middle">0.075</text>
<text x="155.00" y="541.38" font-size="5.5" text-anchor="middle">0.100</text>
<text x="173.40" y="541.38" font-size="5.5" text-anchor="middle">0.125</text>
<text x="191.80" y="541.38" font-size="5.5" text-anchor="middle">0.150</text>
<path d="M117.7 311.60H119.2M117.7 322.99H119.2M117.7 334.38H119.2M117.7 345.77H119.2M117.7 357.16H119.2M117.7 368.55H119.2M117.7 379.94H119.2M117.7 391.33H119.2M117.7 402.72H119.2M117.7 414.11H119.2M117.7 425.50H119.2M117.7 436.89H119.2M117.7 448.28H119.2M117.7 459.67H119.2M117.7 471.06H119.2M117.7 482.45H119.2M117.7 493.84H119.2M117.7 505.23H119.2M117.7 516.62H119.2M117.7 528.01H119.2M136.60 534.8v1.5M155.00 534.8v1.5M173.40 534.8v1.5M191.80 534.8v1.5" stroke="#333" stroke-width="0.5" fill="none"/>
<rect x="119.2" y="304.8" width="86.3" height="230.0" fill="none" stroke="#333" stroke-width="0.6"/>
<text x="161.80" y="547.02" font-size="5.6" text-anchor="middle">GeneRatio</text>
<text x="213.00" y="376.13" font-size="4.8">Count</text>
<circle cx="217.6" cy="383.0" r="1.7" fill="#000"/>
<text x="225.20" y="384.37" font-size="3.8">8</text>
<circle cx="217.6" cy="390.6" r="3.0" fill="#000"/>
<text x="225.20" y="391.97" font-size="3.8">12</text>
<circle cx="217.6" cy="398.6" r="3.6" fill="#000"/>
<text x="225.20" y="399.97" font-size="3.8">16</text>
<circle cx="217.6" cy="407.6" r="4.25" fill="#000"/>
<text x="225.20" y="408.97" font-size="3.8">20</text>
<text x="213.00" y="426.33" font-size="4.8">p.adjust</text>
<defs><linearGradient id="gradC" x1="0" y1="0" x2="0" y2="1"><stop offset="0.0" stop-color="#0000FF"/><stop offset="0.1" stop-color="#6800E7"/><stop offset="0.2" stop-color="#8D00CE"/><stop offset="0.3" stop-color="#A600B7"/><stop offset="0.4" stop-color="#BA009F"/><stop offset="0.5" stop-color="#CA0088"/><stop offset="0.6" stop-color="#D70072"/><stop offset="0.7" stop-color="#E3005B"/><stop offset="0.8" stop-color="#ED0044"/><stop offset="0.9" stop-color="#F6002A"/><stop offset="1.0" stop-color="#FF0000"/></linearGradient></defs>
<rect x="213.0" y="428.9" width="7.7" height="38.5" fill="url(#gradC)"/>
<text x="223.10" y="432.77" font-size="3.8">0.0016</text>
<text x="223.10" y="441.67" font-size="3.8">0.0012</text>
<text x="223.10" y="450.77" font-size="3.8">0.0008</text>
<text x="223.10" y="460.17" font-size="3.8">0.0004</text>
</g>
<g id="panelD">
<text x="240.00" y="294.51" font-size="10.3" font-weight="bold">D</text>
<path d="M334.9 337.6C333.2 368.0 360.9 379.5 378.0 355.6M334.9 337.6C332.9 373.8 361.7 388.0 385.0 362.4M334.9 337.6C332.6 379.5 361.2 396.0 391.2 370.1M334.9 337.6C332.3 385.0 359.5 403.2 396.5 378.6M334.9 337.6C332.0 390.4 357.0 409.4 400.9 387.7M334.9 337.6C331.7 395.6 353.8 414.6 404.2 397.3M334.9 337.6C331.4 400.6 350.0 418.7 406.4 407.3M334.9 337.6C331.2 405.3 346.0 421.6 407.6 417.5M334.9 337.6C330.9 409.8 341.9 423.5 407.6 427.8M334.9 337.6C330.7 414.0 338.0 424.3 406.4 438.1M334.9 337.6C330.5 418.0 334.3 424.1 404.2 448.1M334.9 337.6C330.3 421.6 331.1 423.1 400.9 457.7" stroke="#00B0F6" stroke-width="1.1" fill="none" stroke-opacity="0.88"/>
<path d="M344.2 338.8C329.8 425.0 332.2 422.0 256.2 448.1M344.2 338.8C329.6 426.1 333.0 421.3 259.5 457.7M344.2 338.8C329.6 426.1 332.9 420.9 263.9 466.8M344.2 338.8C329.6 426.1 332.6 420.6 269.2 475.3M344.2 338.8C329.6 426.1 332.4 420.3 275.4 483.0M344.2 338.8C329.6 426.1 332.1 420.0 282.4 489.8M344.2 338.8C329.6 426.1 331.8 419.8 290.1 495.7M344.2 338.8C329.6 426.1 331.5 419.6 298.4 500.5M344.2 338.8C329.6 426.1 331.1 419.4 307.1 504.1M344.2 338.8C329.6 426.1 330.8 419.3 316.2 506.6M344.2 338.8C329.6 426.1 330.4 419.3 325.5 507.8M344.2 338.8C329.6 426.1 330.0 419.3 334.9 507.8M344.2 338.8C329.6 426.1 329.6 419.3 344.2 506.6M344.2 338.8C329.6 426.1 329.3 419.4 353.3 504.1M344.2 338.8C329.6 426.1 328.9 419.6 362.0 500.5M344.2 338.8C329.6 426.1 328.6 419.8 370.3 495.7M344.2 338.8C329.6 426.1 328.3 420.0 378.0 489.8M344.2 338.8C329.6 426.1 328.0 420.3 385.0 483.0M344.2 338.8C329.8 425.0 328.6 421.3 391.2 475.3M344.2 338.8C330.4 421.7 331.0 423.2 396.5 466.8M344.2 338.8C331.0 418.1 334.1 424.6 400.9 457.7M344.2 338.8C331.6 414.2 337.7 425.3 404.2 448.1M344.2 338.8C333.8 400.9 350.3 421.4 407.6 417.5" stroke="#A3A500" stroke-width="1.1" fill="none" stroke-opacity="0.88"/>
<path d="M353.3 341.3C337.5 396.8 310.8 406.0 269.2 370.1M353.3 341.3C336.2 401.5 313.0 411.2 263.9 378.6M353.3 341.3C334.9 406.1 315.8 415.5 259.5 387.7M353.3 341.3C333.7 410.4 319.0 418.9 256.2 397.3M353.3 341.3C332.5 414.4 322.4 421.1 254.0 407.3M353.3 341.3C331.5 418.2 325.9 422.4 252.8 417.6M353.3 341.3C330.5 421.7 329.2 422.8 252.8 427.9M353.3 341.3C329.6 424.9 332.3 422.3 254.0 438.1M353.3 341.3C341.9 381.4 366.1 404.9 400.9 387.7M353.3 341.3C345.0 370.3 369.4 388.9 391.2 370.1M353.3 341.3C338.9 391.8 359.1 416.9 406.4 407.3M353.3 341.3C334.9 406.1 345.8 425.8 406.4 438.1M353.3 341.3C333.7 410.4 341.4 426.5 404.2 448.1" stroke="#00BF7D" stroke-width="1.1" fill="none" stroke-opacity="0.88"/>
<path d="M362.0 344.9C328.9 425.8 333.2 421.7 256.2 448.1M362.0 344.9C328.9 425.8 332.9 420.9 263.9 466.8M362.0 344.9C328.9 425.8 332.4 420.3 275.4 483.0M362.0 344.9C328.9 425.8 331.8 419.8 290.1 495.7M362.0 344.9C328.9 425.8 331.5 419.6 298.4 500.5M362.0 344.9C328.9 425.8 331.1 419.4 307.1 504.1M362.0 344.9C328.9 425.8 330.8 419.3 316.2 506.6M362.0 344.9C328.9 425.8 330.4 419.3 325.5 507.8M362.0 344.9C328.9 425.8 330.0 419.3 334.9 507.8M362.0 344.9C328.9 425.8 329.3 419.4 353.3 504.1M362.0 344.9C328.9 425.8 328.9 419.6 362.0 500.5M362.0 344.9C330.6 421.7 330.9 423.4 385.0 483.0M362.0 344.9C335.0 410.9 340.9 428.0 400.9 457.7" stroke="#E76BF3" stroke-width="1.1" fill="none" stroke-opacity="0.88"/>
<path d="M370.3 349.7C367.4 355.0 374.5 360.4 378.0 355.6M370.3 349.7C364.5 360.3 377.1 371.1 385.0 362.4M370.3 349.7C356.0 375.8 375.6 400.2 400.9 387.7M370.3 349.7C356.0 375.8 327.2 368.0 325.5 337.6M370.3 349.7C353.2 380.8 322.2 374.5 316.2 338.8M370.3 349.7C350.5 385.7 318.5 381.4 307.1 341.3M370.3 349.7C347.9 390.4 316.1 388.3 298.4 344.9M370.3 349.7C345.4 395.0 315.0 395.0 290.1 349.7M370.3 349.7C343.0 399.5 315.0 401.3 282.4 355.6M370.3 349.7C340.6 403.7 316.0 407.0 275.4 362.4M370.3 349.7C338.4 407.8 317.7 412.0 269.2 370.1M370.3 349.7C336.3 411.6 320.2 416.0 263.9 378.6" stroke="#F8766D" stroke-width="1.1" fill="none" stroke-opacity="0.88"/>
<g fill="#A8A8A8"><circle cx="378.0" cy="355.6" r="1.3"/><circle cx="385.0" cy="362.4" r="1.3"/><circle cx="391.2" cy="370.1" r="1.3"/><circle cx="396.5" cy="378.6" r="1.3"/><circle cx="400.9" cy="387.7" r="1.3"/><circle cx="404.2" cy="397.3" r="1.3"/><circle cx="406.4" cy="407.3" r="1.3"/><circle cx="407.6" cy="417.5" r="1.3"/><circle cx="407.6" cy="427.8" r="1.3"/><circle cx="406.4" cy="438.1" r="1.3"/><circle cx="404.2" cy="448.1" r="1.3"/><circle cx="400.9" cy="457.7" r="1.3"/><circle cx="396.5" cy="466.8" r="1.3"/><circle cx="391.2" cy="475.3" r="1.3"/><circle cx="385.0" cy="483.0" r="1.3"/><circle cx="378.0" cy="489.8" r="1.3"/><circle cx="370.3" cy="495.7" r="1.3"/><circle cx="362.0" cy="500.5" r="1.3"/><circle cx="353.3" cy="504.1" r="1.3"/><circle cx="344.2" cy="506.6" r="1.3"/><circle cx="334.9" cy="507.8" r="1.3"/><circle cx="325.5" cy="507.8" r="1.3"/><circle cx="316.2" cy="506.6" r="1.3"/><circle cx="307.1" cy="504.1" r="1.3"/><circle cx="298.4" cy="500.5" r="1.3"/><circle cx="290.1" cy="495.7" r="1.3"/><circle cx="282.4" cy="489.8" r="1.3"/><circle cx="275.4" cy="483.0" r="1.3"/><circle cx="269.2" cy="475.3" r="1.3"/><circle cx="263.9" cy="466.8" r="1.3"/><circle cx="259.5" cy="457.7" r="1.3"/><circle cx="256.2" cy="448.1" r="1.3"/><circle cx="254.0" cy="438.1" r="1.3"/><circle cx="252.8" cy="427.9" r="1.3"/><circle cx="252.8" cy="417.6" r="1.3"/><circle cx="254.0" cy="407.3" r="1.3"/><circle cx="256.2" cy="397.3" r="1.3"/><circle cx="259.5" cy="387.7" r="1.3"/><circle cx="263.9" cy="378.6" r="1.3"/><circle cx="269.2" cy="370.1" r="1.3"/><circle cx="275.4" cy="362.4" r="1.3"/><circle cx="282.4" cy="355.6" r="1.3"/><circle cx="290.1" cy="349.7" r="1.3"/><circle cx="298.4" cy="344.9" r="1.3"/><circle cx="307.1" cy="341.3" r="1.3"/><circle cx="316.2" cy="338.8" r="1.3"/><circle cx="325.5" cy="337.6" r="1.3"/></g>
<circle cx="334.9" cy="337.6" r="2.9" fill="#E5C494"/>
<circle cx="344.2" cy="338.8" r="3.8" fill="#E5C494"/>
<circle cx="353.3" cy="341.3" r="2.9" fill="#E5C494"/>
<circle cx="370.3" cy="349.7" r="3.0" fill="#E5C494"/>
<circle cx="362.0" cy="344.9" r="2.6" fill="#E5C494"/>
<text x="308.30" y="335.79" font-size="5.25">FCGR2B</text>
<text x="331.80" y="335.69" font-size="5.25">CD72</text>
<text x="285.20" y="341.79" font-size="5.25">CARD11</text>
<text x="280.00" y="348.49" font-size="5.25">PLCG2</text>
<text x="278.60" y="354.79" font-size="5.25">PRKCB</text>
<text x="270.30" y="361.49" font-size="5.25">CD79B</text>
<text x="263.90" y="368.49" font-size="5.25">PTPN6</text>
<text x="260.70" y="376.19" font-size="5.25">CR2</text>
<text x="254.10" y="384.49" font-size="5.25">CD22</text>
<text x="246.90" y="393.69" font-size="5.25">HLA−DMB</text>
<text x="247.00" y="403.79" font-size="5.25">MS4A1</text>
<text x="252.20" y="413.39" font-size="5.25">CD2</text>
<text x="250.10" y="423.59" font-size="5.25">CD37</text>
<text x="255.40" y="429.69" font-size="5.25">CD38</text>
<text x="250.10" y="436.49" font-size="5.25">ITGA4</text>
<text x="250.10" y="446.99" font-size="5.25">CXCL13</text>
<text x="247.00" y="455.89" font-size="5.25">CXCL17</text>
<text x="253.10" y="465.19" font-size="5.25">CCL19</text>
<text x="261.00" y="473.89" font-size="5.25">IL33</text>
<text x="264.10" y="481.59" font-size="5.25">CXCL9</text>
<text x="274.10" y="488.59" font-size="5.25">LTB</text>
<text x="277.60" y="494.79" font-size="5.25">CXCL12</text>
<text x="287.20" y="501.89" font-size="5.25">IL18</text>
<text x="289.80" y="507.99" font-size="5.25">CCL21</text>
<text x="307.30" y="514.19" font-size="5.25">CXCR5</text>
<text x="326.80" y="515.19" font-size="5.25">CCR6</text>
<text x="328.70" y="505.99" font-size="5.25">CCR2</text>
<text x="344.30" y="514.79" font-size="5.25">TNFSF13B</text>
<text x="355.50" y="508.39" font-size="5.25">IL2RB</text>
<text x="364.30" y="501.59" font-size="5.25">CCR7</text>
<text x="360.80" y="494.79" font-size="5.25">TNFRSF17</text>
<text x="372.40" y="488.59" font-size="5.25">TGFBR2</text>
<text x="380.20" y="482.19" font-size="5.25">IL10RA</text>
<text x="388.00" y="474.39" font-size="5.25">CD27</text>
<text x="395.30" y="465.59" font-size="5.25">IL16</text>
<text x="396.50" y="456.19" font-size="5.25">IL2RG</text>
<text x="395.50" y="446.69" font-size="5.25">IL7R</text>
<text x="400.00" y="436.49" font-size="5.25">CD8A</text>
<text x="389.80" y="429.89" font-size="5.25">ZAP70</text>
<text x="376.10" y="419.69" font-size="5.25">TNFRSF13B</text>
<text x="396.10" y="412.89" font-size="5.25">CD3E</text>
<text x="396.10" y="403.09" font-size="5.25">PTPRC</text>
<text x="397.30" y="393.29" font-size="5.25">CD19</text>
<text x="395.00" y="384.49" font-size="5.25">LCK</text>
<text x="387.50" y="375.79" font-size="5.25">CD3D</text>
<text x="383.40" y="367.89" font-size="5.25">BTK</text>
<text x="373.40" y="360.59" font-size="5.25">CD79A</text>
<path d="M331.0 333.6H332.0M345.0 333.6H347.2" stroke="#777" stroke-width="0.5"/>
<text x="347.50" y="334.79" font-size="5.25">Primary immunodeficiency</text>
<text x="352.90" y="341.59" font-size="5.25">Hematopoietic cell lineage</text>
<text x="338.00" y="347.69" font-size="5.25">B cell receptor signaling pathway</text>
<text x="298.80" y="354.69" font-size="5.25">Viral protein interaction with cytokine and cytokine receptor</text>
<text x="417.10" y="389.21" font-size="4.2">size</text>
<circle cx="421.2" cy="394.3" r="2.0" fill="#000"/>
<text x="427.40" y="395.38" font-size="3.0">5</text>
<circle cx="421.2" cy="400.8" r="2.65" fill="#000"/>
<text x="427.40" y="401.88" font-size="3.0">10</text>
<circle cx="421.2" cy="407.5" r="3.1" fill="#000"/>
<text x="427.40" y="408.58" font-size="3.0">15</text>
<circle cx="421.2" cy="415.3" r="3.5" fill="#000"/>
<text x="427.40" y="416.38" font-size="3.0">20</text>
<text x="417.10" y="425.41" font-size="4.2">category</text>
<path d="M417.6 431.0H423.4" stroke="#F8766D" stroke-width="1.0"/>
<text x="426.30" y="432.19" font-size="3.3">B cell receptor signaling pathway</text>
<path d="M417.6 437.5H423.4" stroke="#A3A500" stroke-width="1.0"/>
<text x="426.30" y="438.69" font-size="3.3">Cytokine−cytokine receptor interaction</text>
<path d="M417.6 443.9H423.4" stroke="#00BF7D" stroke-width="1.0"/>
<text x="426.30" y="445.09" font-size="3.3">Hematopoietic cell lineage</text>
<path d="M417.6 450.5H423.4" stroke="#00B0F6" stroke-width="1.0"/>
<text x="426.30" y="451.69" font-size="3.3">Primary immunodeficiency</text>
<path d="M417.6 457.1H423.4" stroke="#E76BF3" stroke-width="1.0"/>
<text x="426.30" y="458.29" font-size="3.3">Viral protein interaction with cytokine and cytokine receptor</text>
</g>
</svg>
</body></html>
